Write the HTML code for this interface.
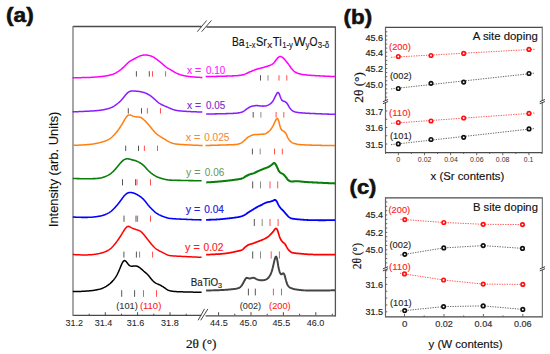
<!DOCTYPE html>
<html><head><meta charset="utf-8"><title>XRD figure</title>
<style>
html,body{margin:0;padding:0;background:#fff;}
body{width:550px;height:354px;overflow:hidden;font-family:"Liberation Sans", sans-serif;}
svg{display:block;}
</style></head>
<body>
<svg width="550" height="354" viewBox="0 0 550 354">
<rect width="550" height="354" fill="#fff"/>
<text x="6" y="21.6" font-family='"Liberation Sans", sans-serif' font-size="20.2" fill="#111" text-anchor="start" font-weight="bold" textLength="27.8" lengthAdjust="spacingAndGlyphs" stroke="#111" stroke-width="0.55">(a)</text>
<text x="343.6" y="23.5" font-family='"Liberation Sans", sans-serif' font-size="20.2" fill="#111" text-anchor="start" font-weight="bold" textLength="28.6" lengthAdjust="spacingAndGlyphs" stroke="#111" stroke-width="0.55">(b)</text>
<text x="349.6" y="194.2" font-family='"Liberation Sans", sans-serif' font-size="20.2" fill="#111" text-anchor="start" font-weight="bold" textLength="26.8" lengthAdjust="spacingAndGlyphs" stroke="#111" stroke-width="0.55">(c)</text>
<line x1="73" y1="26.5" x2="201.6" y2="26.5" stroke="#4a4a4a" stroke-width="1.3"/>
<line x1="206.4" y1="27" x2="335.4" y2="27" stroke="#4a4a4a" stroke-width="1.3"/>
<line x1="73" y1="315.4" x2="201.2" y2="315.4" stroke="#4a4a4a" stroke-width="1.3"/>
<line x1="205.6" y1="315.8" x2="335.4" y2="315.8" stroke="#4a4a4a" stroke-width="1.3"/>
<line x1="73" y1="25.9" x2="73" y2="316" stroke="#777777" stroke-width="1.3"/>
<line x1="335.4" y1="26.4" x2="335.4" y2="316.4" stroke="#555" stroke-width="1.3"/>
<line x1="197.3" y1="31.7" x2="206.6" y2="20.5" stroke="#333" stroke-width="0.9"/>
<line x1="201.6" y1="31.7" x2="211.4" y2="20.5" stroke="#333" stroke-width="0.9"/>
<line x1="198.1" y1="320.3" x2="204.5" y2="308.9" stroke="#333" stroke-width="0.9"/>
<line x1="200.7" y1="320.3" x2="207.9" y2="308.9" stroke="#333" stroke-width="0.9"/>
<line x1="105.3" y1="315.4" x2="105.3" y2="312.2" stroke="#4a4a4a" stroke-width="1"/>
<line x1="137.6" y1="315.4" x2="137.6" y2="312.2" stroke="#4a4a4a" stroke-width="1"/>
<line x1="170" y1="315.4" x2="170" y2="312.2" stroke="#4a4a4a" stroke-width="1"/>
<line x1="218.6" y1="315.4" x2="218.6" y2="312.2" stroke="#4a4a4a" stroke-width="1"/>
<line x1="251" y1="315.4" x2="251" y2="312.2" stroke="#4a4a4a" stroke-width="1"/>
<line x1="283.4" y1="315.4" x2="283.4" y2="312.2" stroke="#4a4a4a" stroke-width="1"/>
<line x1="315.8" y1="315.4" x2="315.8" y2="312.2" stroke="#4a4a4a" stroke-width="1"/>
<line x1="89.2" y1="315.4" x2="89.2" y2="313.7" stroke="#4a4a4a" stroke-width="1"/>
<line x1="121.5" y1="315.4" x2="121.5" y2="313.7" stroke="#4a4a4a" stroke-width="1"/>
<line x1="153.8" y1="315.4" x2="153.8" y2="313.7" stroke="#4a4a4a" stroke-width="1"/>
<line x1="186.2" y1="315.4" x2="186.2" y2="313.7" stroke="#4a4a4a" stroke-width="1"/>
<line x1="234.8" y1="315.4" x2="234.8" y2="313.7" stroke="#4a4a4a" stroke-width="1"/>
<line x1="267.2" y1="315.4" x2="267.2" y2="313.7" stroke="#4a4a4a" stroke-width="1"/>
<line x1="299.6" y1="315.4" x2="299.6" y2="313.7" stroke="#4a4a4a" stroke-width="1"/>
<line x1="332.3" y1="315.4" x2="332.3" y2="313.7" stroke="#4a4a4a" stroke-width="1"/>
<text x="74.2" y="326" font-family='"Liberation Sans", sans-serif' font-size="9.2" fill="#222" text-anchor="middle" font-weight="normal" textLength="17.6" lengthAdjust="spacingAndGlyphs" stroke="#222" stroke-width="0.05">31.2</text>
<text x="103.6" y="326" font-family='"Liberation Sans", sans-serif' font-size="9.2" fill="#222" text-anchor="middle" font-weight="normal" textLength="17.6" lengthAdjust="spacingAndGlyphs" stroke="#222" stroke-width="0.05">31.4</text>
<text x="135.6" y="326" font-family='"Liberation Sans", sans-serif' font-size="9.2" fill="#222" text-anchor="middle" font-weight="normal" textLength="17.6" lengthAdjust="spacingAndGlyphs" stroke="#222" stroke-width="0.05">31.6</text>
<text x="169.9" y="326" font-family='"Liberation Sans", sans-serif' font-size="9.2" fill="#222" text-anchor="middle" font-weight="normal" textLength="17.6" lengthAdjust="spacingAndGlyphs" stroke="#222" stroke-width="0.05">31.8</text>
<text x="218.9" y="326" font-family='"Liberation Sans", sans-serif' font-size="9.2" fill="#222" text-anchor="middle" font-weight="normal" textLength="17.6" lengthAdjust="spacingAndGlyphs" stroke="#222" stroke-width="0.05">44.5</text>
<text x="248.3" y="326" font-family='"Liberation Sans", sans-serif' font-size="9.2" fill="#222" text-anchor="middle" font-weight="normal" textLength="17.6" lengthAdjust="spacingAndGlyphs" stroke="#222" stroke-width="0.05">45.0</text>
<text x="281.4" y="326" font-family='"Liberation Sans", sans-serif' font-size="9.2" fill="#222" text-anchor="middle" font-weight="normal" textLength="17.6" lengthAdjust="spacingAndGlyphs" stroke="#222" stroke-width="0.05">45.5</text>
<text x="315.6" y="326" font-family='"Liberation Sans", sans-serif' font-size="9.2" fill="#222" text-anchor="middle" font-weight="normal" textLength="17.6" lengthAdjust="spacingAndGlyphs" stroke="#222" stroke-width="0.05">46.0</text>
<text x="201.2" y="347.6" font-family='"Liberation Serif", serif' font-size="13.4" fill="#111" text-anchor="middle" font-weight="normal" textLength="30.5" lengthAdjust="spacingAndGlyphs" stroke="#111" stroke-width="0.2">2&#952; (&#176;)</text>
<text transform="translate(58.3,169.4) rotate(-90)" font-family='"Liberation Sans", sans-serif' font-size="13.6" fill="#111" text-anchor="middle" textLength="115.6" lengthAdjust="spacingAndGlyphs" stroke="#111" stroke-width="0.12">Intensity (arb. Units)</text>
<text x="232" y="45.7" font-family='"Liberation Sans", sans-serif' font-size="13.2" fill="#111" text-anchor="start" font-weight="normal" textLength="12.6" lengthAdjust="spacingAndGlyphs" stroke="#111" stroke-width="0.15">Ba</text>
<text x="245.2" y="48.4" font-family='"Liberation Sans", sans-serif' font-size="8.4" fill="#222" text-anchor="start" font-weight="normal" textLength="10.3" lengthAdjust="spacingAndGlyphs" stroke="#222" stroke-width="0.12">1-x</text>
<text x="256" y="45.7" font-family='"Liberation Sans", sans-serif' font-size="13.2" fill="#111" text-anchor="start" font-weight="normal" textLength="11" lengthAdjust="spacingAndGlyphs" stroke="#111" stroke-width="0.15">Sr</text>
<text x="267.3" y="48.4" font-family='"Liberation Sans", sans-serif' font-size="8.4" fill="#222" text-anchor="start" font-weight="normal" textLength="5" lengthAdjust="spacingAndGlyphs" stroke="#222" stroke-width="0.12">x</text>
<text x="272.8" y="45.7" font-family='"Liberation Sans", sans-serif' font-size="13.2" fill="#111" text-anchor="start" font-weight="normal" textLength="8.8" lengthAdjust="spacingAndGlyphs" stroke="#111" stroke-width="0.15">Ti</text>
<text x="282.2" y="48.4" font-family='"Liberation Sans", sans-serif' font-size="8.4" fill="#222" text-anchor="start" font-weight="normal" textLength="10.8" lengthAdjust="spacingAndGlyphs" stroke="#222" stroke-width="0.12">1-y</text>
<text x="293.4" y="45.7" font-family='"Liberation Sans", sans-serif' font-size="13.2" fill="#111" text-anchor="start" font-weight="normal" textLength="12.2" lengthAdjust="spacingAndGlyphs" stroke="#111" stroke-width="0.15">W</text>
<text x="305.6" y="48.4" font-family='"Liberation Sans", sans-serif' font-size="8.4" fill="#222" text-anchor="start" font-weight="normal" textLength="4" lengthAdjust="spacingAndGlyphs" stroke="#222" stroke-width="0.12">y</text>
<text x="309.6" y="45.7" font-family='"Liberation Sans", sans-serif' font-size="13.2" fill="#111" text-anchor="start" font-weight="normal" textLength="8" lengthAdjust="spacingAndGlyphs" stroke="#111" stroke-width="0.15">O</text>
<text x="317.8" y="48.4" font-family='"Liberation Sans", sans-serif' font-size="8.4" fill="#222" text-anchor="start" font-weight="normal" textLength="11.4" lengthAdjust="spacingAndGlyphs" stroke="#222" stroke-width="0.12">3-&#948;</text>
<g fill="none" stroke-linejoin="round" stroke-linecap="butt">
<path d="M72.5,77.7 L73,77.7 L73.5,77.7 L74,77.7 L74.5,77.7 L75,77.7 L75.5,77.7 L76,77.7 L76.5,77.7 L77,77.69 L77.5,77.69 L78,77.68 L78.5,77.68 L79,77.67 L79.5,77.67 L80,77.66 L80.5,77.65 L81,77.64 L81.5,77.63 L82,77.62 L82.5,77.61 L83,77.6 L83.5,77.59 L84,77.58 L84.5,77.57 L85,77.55 L85.5,77.54 L86,77.53 L86.5,77.51 L87,77.5 L87.5,77.48 L88,77.47 L88.5,77.45 L89,77.43 L89.5,77.42 L90,77.4 L90.5,77.38 L91,77.35 L91.5,77.32 L92,77.29 L92.5,77.26 L93,77.23 L93.5,77.19 L94,77.15 L94.5,77.11 L95,77.08 L95.5,77.04 L96,77 L96.5,76.96 L97,76.92 L97.5,76.88 L98,76.84 L98.5,76.8 L99,76.75 L99.5,76.71 L100,76.66 L100.5,76.61 L101,76.56 L101.5,76.51 L102,76.46 L102.5,76.41 L103,76.35 L103.5,76.29 L104,76.23 L104.5,76.17 L105,76.1 L105.5,76.02 L106,75.94 L106.5,75.85 L107,75.75 L107.5,75.66 L108,75.55 L108.5,75.45 L109,75.33 L109.5,75.22 L110,75.1 L110.5,74.98 L111,74.85 L111.5,74.72 L112,74.57 L112.5,74.41 L113,74.23 L113.5,74.03 L114,73.81 L114.5,73.57 L115,73.32 L115.5,73.06 L116,72.79 L116.5,72.51 L117,72.22 L117.5,71.92 L118,71.6 L118.5,71.26 L119,70.91 L119.5,70.55 L120,70.18 L120.5,69.8 L121,69.4 L121.5,68.99 L122,68.56 L122.5,68.12 L123,67.67 L123.5,67.21 L124,66.74 L124.5,66.27 L125,65.77 L125.5,65.27 L126,64.75 L126.5,64.22 L127,63.7 L127.5,63.2 L128,62.72 L128.5,62.29 L129,61.89 L129.5,61.53 L130,61.2 L130.5,60.89 L131,60.59 L131.5,60.31 L132,60.04 L132.5,59.78 L133,59.52 L133.5,59.27 L134,59.01 L134.5,58.75 L135,58.49 L135.5,58.22 L136,57.94 L136.5,57.66 L137,57.39 L137.5,57.11 L138,56.85 L138.5,56.6 L139,56.37 L139.5,56.16 L140,55.97 L140.5,55.79 L141,55.64 L141.5,55.5 L142,55.36 L142.5,55.25 L143,55.15 L143.5,55.06 L144,55 L144.5,54.96 L145,54.94 L145.5,54.94 L146,54.97 L146.5,55.02 L147,55.08 L147.5,55.17 L148,55.26 L148.5,55.37 L149,55.48 L149.5,55.61 L150,55.74 L150.5,55.89 L151,56.05 L151.5,56.24 L152,56.44 L152.5,56.67 L153,56.91 L153.5,57.18 L154,57.46 L154.5,57.76 L155,58.08 L155.5,58.42 L156,58.78 L156.5,59.14 L157,59.52 L157.5,59.9 L158,60.29 L158.5,60.68 L159,61.08 L159.5,61.48 L160,61.89 L160.5,62.31 L161,62.73 L161.5,63.15 L162,63.57 L162.5,63.99 L163,64.4 L163.5,64.82 L164,65.24 L164.5,65.66 L165,66.08 L165.5,66.49 L166,66.88 L166.5,67.26 L167,67.62 L167.5,67.95 L168,68.26 L168.5,68.56 L169,68.84 L169.5,69.13 L170,69.42 L170.5,69.72 L171,70.02 L171.5,70.33 L172,70.63 L172.5,70.94 L173,71.24 L173.5,71.53 L174,71.81 L174.5,72.09 L175,72.36 L175.5,72.62 L176,72.87 L176.5,73.12 L177,73.35 L177.5,73.58 L178,73.8 L178.5,74.02 L179,74.22 L179.5,74.41 L180,74.59 L180.5,74.76 L181,74.91 L181.5,75.05 L182,75.18 L182.5,75.3 L183,75.42 L183.5,75.54 L184,75.66 L184.5,75.76 L185,75.87 L185.5,75.97 L186,76.06 L186.5,76.15 L187,76.23 L187.5,76.3 L188,76.37 L188.5,76.43 L189,76.49 L189.5,76.55 L190,76.6 L190.5,76.66 L191,76.71 L191.5,76.76 L192,76.81 L192.5,76.86 L193,76.9 L193.5,76.94 L194,76.99 L194.5,77.02 L195,77.06 L195.5,77.1 L196,77.13 L196.5,77.17 L197,77.2 L197.5,77.24 L198,77.27 L198.5,77.3 L199,77.33 L199.5,77.36 L200,77.39 L200.5,77.42 L201,77.44 L201.5,77.46 L202,77.48 L202.4,77.49" stroke="#ff00ff" stroke-width="1.5"/>
<path d="M205.6,76.6 L206.1,76.59 L206.6,76.59 L207.1,76.58 L207.6,76.57 L208.1,76.56 L208.6,76.56 L209.1,76.55 L209.6,76.54 L210.1,76.53 L210.6,76.52 L211.1,76.51 L211.6,76.5 L212.1,76.49 L212.6,76.47 L213.1,76.46 L213.6,76.45 L214.1,76.44 L214.6,76.43 L215.1,76.42 L215.6,76.4 L216.1,76.39 L216.6,76.38 L217.1,76.37 L217.6,76.36 L218.1,76.34 L218.6,76.33 L219.1,76.32 L219.6,76.31 L220.1,76.3 L220.6,76.29 L221.1,76.27 L221.6,76.26 L222.1,76.25 L222.6,76.23 L223.1,76.22 L223.6,76.21 L224.1,76.19 L224.6,76.18 L225.1,76.16 L225.6,76.15 L226.1,76.13 L226.6,76.11 L227.1,76.1 L227.6,76.08 L228.1,76.06 L228.6,76.04 L229.1,76.03 L229.6,76.01 L230.1,75.99 L230.6,75.97 L231.1,75.95 L231.6,75.93 L232.1,75.91 L232.6,75.89 L233.1,75.87 L233.6,75.86 L234.1,75.84 L234.6,75.82 L235.1,75.8 L235.6,75.77 L236.1,75.74 L236.6,75.71 L237.1,75.67 L237.6,75.62 L238.1,75.57 L238.6,75.51 L239.1,75.45 L239.6,75.39 L240.1,75.32 L240.6,75.24 L241.1,75.16 L241.6,75.07 L242.1,74.98 L242.6,74.88 L243.1,74.78 L243.6,74.67 L244.1,74.53 L244.6,74.35 L245.1,74.14 L245.6,73.91 L246.1,73.67 L246.6,73.42 L247.1,73.18 L247.6,72.95 L248.1,72.72 L248.6,72.5 L249.1,72.28 L249.6,72.05 L250.1,71.82 L250.6,71.6 L251.1,71.38 L251.6,71.17 L252.1,70.96 L252.6,70.75 L253.1,70.55 L253.6,70.34 L254.1,70.14 L254.6,69.95 L255.1,69.76 L255.6,69.57 L256.1,69.39 L256.6,69.23 L257.1,69.07 L257.6,68.93 L258.1,68.79 L258.6,68.66 L259.1,68.54 L259.6,68.42 L260.1,68.3 L260.6,68.18 L261.1,68.06 L261.6,67.93 L262.1,67.8 L262.6,67.66 L263.1,67.52 L263.6,67.38 L264.1,67.23 L264.6,67.09 L265.1,66.94 L265.6,66.79 L266.1,66.64 L266.6,66.49 L267.1,66.33 L267.6,66.17 L268.1,66.01 L268.6,65.84 L269.1,65.66 L269.6,65.47 L270.1,65.28 L270.6,65.07 L271.1,64.83 L271.6,64.56 L272.1,64.25 L272.6,63.91 L273.1,63.53 L273.6,63.09 L274.1,62.55 L274.6,61.92 L275.1,61.25 L275.6,60.59 L276.1,59.95 L276.6,59.32 L277.1,58.68 L277.6,58.09 L278.1,57.57 L278.6,57.15 L279.1,56.82 L279.6,56.57 L280.1,56.44 L280.6,56.44 L281.1,56.58 L281.6,56.83 L282.1,57.16 L282.6,57.53 L283.1,57.94 L283.6,58.39 L284.1,58.89 L284.6,59.42 L285.1,59.98 L285.6,60.55 L286.1,61.15 L286.6,61.77 L287.1,62.42 L287.6,63.07 L288.1,63.74 L288.6,64.41 L289.1,65.09 L289.6,65.81 L290.1,66.54 L290.6,67.26 L291.1,67.96 L291.6,68.61 L292.1,69.2 L292.6,69.76 L293.1,70.3 L293.6,70.8 L294.1,71.26 L294.6,71.67 L295.1,72.01 L295.6,72.3 L296.1,72.55 L296.6,72.79 L297.1,73.01 L297.6,73.22 L298.1,73.42 L298.6,73.59 L299.1,73.74 L299.6,73.87 L300.1,73.99 L300.6,74.1 L301.1,74.21 L301.6,74.32 L302.1,74.41 L302.6,74.51 L303.1,74.59 L303.6,74.66 L304.1,74.72 L304.6,74.78 L305.1,74.84 L305.6,74.89 L306.1,74.95 L306.6,75 L307.1,75.05 L307.6,75.1 L308.1,75.15 L308.6,75.19 L309.1,75.23 L309.6,75.27 L310.1,75.31 L310.6,75.34 L311.1,75.37 L311.6,75.41 L312.1,75.44 L312.6,75.47 L313.1,75.5 L313.6,75.54 L314.1,75.57 L314.6,75.6 L315.1,75.63 L315.6,75.66 L316.1,75.69 L316.6,75.72 L317.1,75.74 L317.6,75.77 L318.1,75.8 L318.6,75.83 L319.1,75.85 L319.6,75.88 L320.1,75.91 L320.6,75.93 L321.1,75.96 L321.6,75.98 L322.1,76.01 L322.6,76.03 L323.1,76.06 L323.6,76.08 L324.1,76.11 L324.6,76.13 L325.1,76.16 L325.6,76.18 L326.1,76.21 L326.6,76.23 L327.1,76.25 L327.6,76.28 L328.1,76.3 L328.6,76.33 L329.1,76.35 L329.6,76.37 L330.1,76.39 L330.6,76.42 L331.1,76.44 L331.6,76.46 L332.1,76.48 L332.6,76.5 L333.1,76.52 L333.6,76.54 L334.1,76.56 L334.6,76.58 L335,76.6" stroke="#ff00ff" stroke-width="1.55"/>
<path d="M72.5,111.79 L73,111.79 L73.5,111.78 L74,111.77 L74.5,111.76 L75,111.75 L75.5,111.73 L76,111.72 L76.5,111.7 L77,111.69 L77.5,111.67 L78,111.65 L78.5,111.64 L79,111.62 L79.5,111.6 L80,111.58 L80.5,111.56 L81,111.53 L81.5,111.51 L82,111.49 L82.5,111.47 L83,111.44 L83.5,111.42 L84,111.4 L84.5,111.37 L85,111.35 L85.5,111.32 L86,111.3 L86.5,111.27 L87,111.25 L87.5,111.22 L88,111.2 L88.5,111.17 L89,111.15 L89.5,111.12 L90,111.1 L90.5,111.07 L91,111.04 L91.5,111.02 L92,110.98 L92.5,110.95 L93,110.92 L93.5,110.88 L94,110.85 L94.5,110.81 L95,110.77 L95.5,110.72 L96,110.68 L96.5,110.64 L97,110.59 L97.5,110.55 L98,110.5 L98.5,110.45 L99,110.4 L99.5,110.35 L100,110.29 L100.5,110.23 L101,110.16 L101.5,110.08 L102,110 L102.5,109.92 L103,109.82 L103.5,109.73 L104,109.64 L104.5,109.54 L105,109.44 L105.5,109.33 L106,109.22 L106.5,109.1 L107,108.98 L107.5,108.86 L108,108.72 L108.5,108.58 L109,108.43 L109.5,108.26 L110,108.08 L110.5,107.88 L111,107.67 L111.5,107.45 L112,107.22 L112.5,106.97 L113,106.71 L113.5,106.43 L114,106.13 L114.5,105.81 L115,105.47 L115.5,105.12 L116,104.76 L116.5,104.39 L117,104.01 L117.5,103.62 L118,103.22 L118.5,102.8 L119,102.37 L119.5,101.92 L120,101.45 L120.5,100.97 L121,100.46 L121.5,99.93 L122,99.36 L122.5,98.77 L123,98.16 L123.5,97.53 L124,96.91 L124.5,96.29 L125,95.69 L125.5,95.09 L126,94.51 L126.5,93.94 L127,93.4 L127.5,92.9 L128,92.46 L128.5,92.1 L129,91.8 L129.5,91.56 L130,91.36 L130.5,91.21 L131,91.09 L131.5,91 L132,90.96 L132.5,90.94 L133,90.94 L133.5,90.96 L134,90.99 L134.5,91.02 L135,91.06 L135.5,91.1 L136,91.14 L136.5,91.19 L137,91.24 L137.5,91.29 L138,91.35 L138.5,91.41 L139,91.47 L139.5,91.54 L140,91.61 L140.5,91.7 L141,91.79 L141.5,91.9 L142,92.01 L142.5,92.13 L143,92.27 L143.5,92.41 L144,92.56 L144.5,92.72 L145,92.89 L145.5,93.08 L146,93.29 L146.5,93.51 L147,93.74 L147.5,93.99 L148,94.25 L148.5,94.53 L149,94.83 L149.5,95.15 L150,95.49 L150.5,95.84 L151,96.22 L151.5,96.6 L152,96.99 L152.5,97.4 L153,97.81 L153.5,98.23 L154,98.66 L154.5,99.1 L155,99.55 L155.5,100 L156,100.47 L156.5,100.93 L157,101.4 L157.5,101.85 L158,102.27 L158.5,102.67 L159,103.03 L159.5,103.36 L160,103.67 L160.5,103.96 L161,104.24 L161.5,104.5 L162,104.76 L162.5,105 L163,105.23 L163.5,105.46 L164,105.68 L164.5,105.9 L165,106.12 L165.5,106.33 L166,106.54 L166.5,106.75 L167,106.96 L167.5,107.18 L168,107.4 L168.5,107.63 L169,107.85 L169.5,108.08 L170,108.3 L170.5,108.51 L171,108.72 L171.5,108.92 L172,109.11 L172.5,109.29 L173,109.47 L173.5,109.63 L174,109.79 L174.5,109.93 L175,110.07 L175.5,110.19 L176,110.3 L176.5,110.4 L177,110.49 L177.5,110.58 L178,110.65 L178.5,110.72 L179,110.79 L179.5,110.84 L180,110.89 L180.5,110.94 L181,110.98 L181.5,111.02 L182,111.07 L182.5,111.11 L183,111.15 L183.5,111.19 L184,111.23 L184.5,111.26 L185,111.3 L185.5,111.34 L186,111.37 L186.5,111.41 L187,111.44 L187.5,111.47 L188,111.5 L188.5,111.53 L189,111.55 L189.5,111.58 L190,111.6 L190.5,111.62 L191,111.64 L191.5,111.66 L192,111.68 L192.5,111.7 L193,111.72 L193.5,111.74 L194,111.76 L194.5,111.78 L195,111.8 L195.5,111.82 L196,111.84 L196.5,111.86 L197,111.88 L197.5,111.89 L198,111.91 L198.5,111.92 L199,111.94 L199.5,111.95 L200,111.96 L200.5,111.97 L201,111.98 L201.5,111.99 L202,111.99 L202.3,112" stroke="#8a1cff" stroke-width="1.5"/>
<path d="M206.1,114 L206.6,114 L207.1,113.99 L207.6,113.99 L208.1,113.99 L208.6,113.98 L209.1,113.98 L209.6,113.97 L210.1,113.97 L210.6,113.96 L211.1,113.95 L211.6,113.95 L212.1,113.94 L212.6,113.93 L213.1,113.92 L213.6,113.91 L214.1,113.9 L214.6,113.9 L215.1,113.89 L215.6,113.88 L216.1,113.87 L216.6,113.86 L217.1,113.85 L217.6,113.84 L218.1,113.83 L218.6,113.82 L219.1,113.82 L219.6,113.81 L220.1,113.8 L220.6,113.79 L221.1,113.78 L221.6,113.77 L222.1,113.76 L222.6,113.75 L223.1,113.73 L223.6,113.72 L224.1,113.71 L224.6,113.69 L225.1,113.68 L225.6,113.66 L226.1,113.64 L226.6,113.63 L227.1,113.61 L227.6,113.59 L228.1,113.58 L228.6,113.56 L229.1,113.54 L229.6,113.52 L230.1,113.5 L230.6,113.48 L231.1,113.46 L231.6,113.44 L232.1,113.42 L232.6,113.4 L233.1,113.38 L233.6,113.36 L234.1,113.34 L234.6,113.32 L235.1,113.29 L235.6,113.26 L236.1,113.22 L236.6,113.17 L237.1,113.1 L237.6,113.03 L238.1,112.95 L238.6,112.87 L239.1,112.78 L239.6,112.69 L240.1,112.6 L240.6,112.48 L241.1,112.34 L241.6,112.16 L242.1,111.96 L242.6,111.74 L243.1,111.5 L243.6,111.24 L244.1,110.94 L244.6,110.6 L245.1,110.23 L245.6,109.84 L246.1,109.44 L246.6,109.06 L247.1,108.7 L247.6,108.37 L248.1,108.06 L248.6,107.76 L249.1,107.47 L249.6,107.18 L250.1,106.92 L250.6,106.68 L251.1,106.47 L251.6,106.31 L252.1,106.18 L252.6,106.08 L253.1,105.98 L253.6,105.89 L254.1,105.81 L254.6,105.73 L255.1,105.67 L255.6,105.63 L256.1,105.6 L256.6,105.59 L257.1,105.61 L257.6,105.64 L258.1,105.69 L258.6,105.74 L259.1,105.79 L259.6,105.85 L260.1,105.91 L260.6,105.97 L261.1,106.02 L261.6,106.06 L262.1,106.1 L262.6,106.11 L263.1,106.11 L263.6,106.09 L264.1,106.06 L264.6,106.01 L265.1,105.96 L265.6,105.9 L266.1,105.84 L266.6,105.75 L267.1,105.61 L267.6,105.4 L268.1,105.15 L268.6,104.86 L269.1,104.56 L269.6,104.26 L270.1,103.94 L270.6,103.58 L271.1,103.16 L271.6,102.68 L272.1,102.14 L272.6,101.5 L273.1,100.72 L273.6,99.82 L274.1,98.85 L274.6,97.86 L275.1,96.9 L275.6,95.91 L276.1,94.9 L276.6,93.93 L277.1,93.09 L277.6,92.53 L278.1,92.42 L278.6,92.79 L279.1,93.6 L279.6,94.86 L280.1,96.32 L280.6,97.64 L281.1,98.76 L281.6,99.72 L282.1,100.43 L282.6,100.83 L283.1,101.02 L283.6,101.14 L284.1,101.25 L284.6,101.42 L285.1,101.7 L285.6,102.04 L286.1,102.44 L286.6,102.91 L287.1,103.49 L287.6,104.23 L288.1,105.09 L288.6,106 L289.1,106.86 L289.6,107.62 L290.1,108.32 L290.6,108.97 L291.1,109.57 L291.6,110.06 L292.1,110.45 L292.6,110.77 L293.1,111.06 L293.6,111.33 L294.1,111.57 L294.6,111.77 L295.1,111.92 L295.6,112.04 L296.1,112.14 L296.6,112.23 L297.1,112.33 L297.6,112.42 L298.1,112.5 L298.6,112.58 L299.1,112.65 L299.6,112.71 L300.1,112.76 L300.6,112.81 L301.1,112.84 L301.6,112.88 L302.1,112.92 L302.6,112.95 L303.1,112.99 L303.6,113.02 L304.1,113.06 L304.6,113.09 L305.1,113.13 L305.6,113.16 L306.1,113.19 L306.6,113.22 L307.1,113.25 L307.6,113.28 L308.1,113.31 L308.6,113.34 L309.1,113.36 L309.6,113.38 L310.1,113.4 L310.6,113.42 L311.1,113.45 L311.6,113.47 L312.1,113.49 L312.6,113.51 L313.1,113.53 L313.6,113.55 L314.1,113.57 L314.6,113.6 L315.1,113.62 L315.6,113.64 L316.1,113.66 L316.6,113.68 L317.1,113.7 L317.6,113.72 L318.1,113.75 L318.6,113.77 L319.1,113.79 L319.6,113.81 L320.1,113.83 L320.6,113.85 L321.1,113.87 L321.6,113.89 L322.1,113.91 L322.6,113.93 L323.1,113.95 L323.6,113.97 L324.1,113.99 L324.6,114.01 L325.1,114.03 L325.6,114.04 L326.1,114.06 L326.6,114.08 L327.1,114.1 L327.6,114.11 L328.1,114.13 L328.6,114.14 L329.1,114.16 L329.6,114.17 L330.1,114.19 L330.6,114.2 L331.1,114.22 L331.6,114.23 L332.1,114.24 L332.6,114.25 L333.1,114.26 L333.6,114.27 L334.1,114.28 L334.6,114.29 L335,114.3" stroke="#8a1cff" stroke-width="1.55"/>
<path d="M72.8,145.2 L73.3,145.21 L73.8,145.21 L74.3,145.21 L74.8,145.21 L75.3,145.21 L75.8,145.2 L76.3,145.19 L76.8,145.18 L77.3,145.17 L77.8,145.16 L78.3,145.15 L78.8,145.13 L79.3,145.11 L79.8,145.09 L80.3,145.07 L80.8,145.04 L81.3,145.02 L81.8,144.99 L82.3,144.97 L82.8,144.94 L83.3,144.91 L83.8,144.87 L84.3,144.84 L84.8,144.81 L85.3,144.77 L85.8,144.74 L86.3,144.7 L86.8,144.66 L87.3,144.62 L87.8,144.58 L88.3,144.54 L88.8,144.5 L89.3,144.46 L89.8,144.41 L90.3,144.36 L90.8,144.31 L91.3,144.25 L91.8,144.19 L92.3,144.12 L92.8,144.05 L93.3,143.97 L93.8,143.88 L94.3,143.79 L94.8,143.7 L95.3,143.6 L95.8,143.5 L96.3,143.4 L96.8,143.3 L97.3,143.19 L97.8,143.08 L98.3,142.97 L98.8,142.86 L99.3,142.75 L99.8,142.64 L100.3,142.52 L100.8,142.39 L101.3,142.26 L101.8,142.12 L102.3,141.97 L102.8,141.81 L103.3,141.64 L103.8,141.48 L104.3,141.3 L104.8,141.12 L105.3,140.94 L105.8,140.74 L106.3,140.54 L106.8,140.32 L107.3,140.09 L107.8,139.84 L108.3,139.58 L108.8,139.31 L109.3,139.03 L109.8,138.72 L110.3,138.39 L110.8,138.02 L111.3,137.62 L111.8,137.2 L112.3,136.74 L112.8,136.26 L113.3,135.76 L113.8,135.24 L114.3,134.72 L114.8,134.18 L115.3,133.62 L115.8,133.05 L116.3,132.46 L116.8,131.85 L117.3,131.21 L117.8,130.56 L118.3,129.89 L118.8,129.2 L119.3,128.49 L119.8,127.76 L120.3,127 L120.8,126.22 L121.3,125.42 L121.8,124.6 L122.3,123.76 L122.8,122.91 L123.3,122.06 L123.8,121.2 L124.3,120.34 L124.8,119.47 L125.3,118.63 L125.8,117.82 L126.3,117.08 L126.8,116.43 L127.3,115.88 L127.8,115.45 L128.3,115.14 L128.8,114.96 L129.3,114.89 L129.8,114.91 L130.3,115.01 L130.8,115.16 L131.3,115.36 L131.8,115.58 L132.3,115.82 L132.8,116.04 L133.3,116.23 L133.8,116.39 L134.3,116.52 L134.8,116.63 L135.3,116.72 L135.8,116.79 L136.3,116.85 L136.8,116.9 L137.3,116.94 L137.8,116.97 L138.3,116.99 L138.8,117.02 L139.3,117.07 L139.8,117.16 L140.3,117.29 L140.8,117.49 L141.3,117.76 L141.8,118.08 L142.3,118.46 L142.8,118.87 L143.3,119.29 L143.8,119.73 L144.3,120.19 L144.8,120.65 L145.3,121.14 L145.8,121.64 L146.3,122.16 L146.8,122.7 L147.3,123.25 L147.8,123.81 L148.3,124.39 L148.8,124.98 L149.3,125.59 L149.8,126.2 L150.3,126.83 L150.8,127.45 L151.3,128.06 L151.8,128.67 L152.3,129.28 L152.8,129.87 L153.3,130.47 L153.8,131.05 L154.3,131.61 L154.8,132.16 L155.3,132.67 L155.8,133.15 L156.3,133.59 L156.8,134.02 L157.3,134.42 L157.8,134.8 L158.3,135.16 L158.8,135.51 L159.3,135.86 L159.8,136.19 L160.3,136.51 L160.8,136.83 L161.3,137.15 L161.8,137.45 L162.3,137.76 L162.8,138.06 L163.3,138.36 L163.8,138.66 L164.3,138.96 L164.8,139.27 L165.3,139.58 L165.8,139.89 L166.3,140.2 L166.8,140.52 L167.3,140.82 L167.8,141.12 L168.3,141.41 L168.8,141.68 L169.3,141.93 L169.8,142.17 L170.3,142.4 L170.8,142.61 L171.3,142.81 L171.8,143 L172.3,143.18 L172.8,143.34 L173.3,143.49 L173.8,143.61 L174.3,143.72 L174.8,143.81 L175.3,143.89 L175.8,143.96 L176.3,144.03 L176.8,144.09 L177.3,144.15 L177.8,144.2 L178.3,144.25 L178.8,144.3 L179.3,144.34 L179.8,144.38 L180.3,144.42 L180.8,144.45 L181.3,144.49 L181.8,144.52 L182.3,144.55 L182.8,144.59 L183.3,144.62 L183.8,144.65 L184.3,144.68 L184.8,144.71 L185.3,144.75 L185.8,144.78 L186.3,144.8 L186.8,144.83 L187.3,144.86 L187.8,144.89 L188.3,144.92 L188.8,144.94 L189.3,144.97 L189.8,144.99 L190.3,145.01 L190.8,145.04 L191.3,145.06 L191.8,145.08 L192.3,145.1 L192.8,145.13 L193.3,145.15 L193.8,145.17 L194.3,145.19 L194.8,145.22 L195.3,145.24 L195.8,145.26 L196.3,145.28 L196.8,145.3 L197.3,145.32 L197.8,145.34 L198.3,145.36 L198.8,145.38 L199.3,145.4 L199.8,145.41 L200.3,145.43 L200.8,145.45 L201.3,145.46 L201.8,145.47 L202.3,145.48 L202.7,145.49" stroke="#ff7f10" stroke-width="1.5"/>
<path d="M205.5,145.5 L206,145.49 L206.5,145.48 L207,145.46 L207.5,145.45 L208,145.44 L208.5,145.42 L209,145.41 L209.5,145.4 L210,145.38 L210.5,145.37 L211,145.36 L211.5,145.34 L212,145.33 L212.5,145.31 L213,145.3 L213.5,145.29 L214,145.27 L214.5,145.26 L215,145.24 L215.5,145.23 L216,145.21 L216.5,145.2 L217,145.19 L217.5,145.17 L218,145.16 L218.5,145.14 L219,145.13 L219.5,145.11 L220,145.1 L220.5,145.09 L221,145.07 L221.5,145.06 L222,145.04 L222.5,145.03 L223,145.01 L223.5,145 L224,144.98 L224.5,144.97 L225,144.95 L225.5,144.94 L226,144.92 L226.5,144.9 L227,144.89 L227.5,144.87 L228,144.86 L228.5,144.84 L229,144.82 L229.5,144.8 L230,144.79 L230.5,144.77 L231,144.75 L231.5,144.73 L232,144.71 L232.5,144.7 L233,144.68 L233.5,144.66 L234,144.64 L234.5,144.62 L235,144.6 L235.5,144.56 L236,144.51 L236.5,144.44 L237,144.36 L237.5,144.25 L238,144.14 L238.5,144.01 L239,143.87 L239.5,143.72 L240,143.55 L240.5,143.34 L241,143.07 L241.5,142.75 L242,142.39 L242.5,142.01 L243,141.61 L243.5,141.21 L244,140.82 L244.5,140.4 L245,139.95 L245.5,139.48 L246,139 L246.5,138.52 L247,138.05 L247.5,137.62 L248,137.22 L248.5,136.89 L249,136.6 L249.5,136.34 L250,136.1 L250.5,135.86 L251,135.64 L251.5,135.43 L252,135.24 L252.5,135.07 L253,134.93 L253.5,134.8 L254,134.7 L254.5,134.63 L255,134.59 L255.5,134.55 L256,134.52 L256.5,134.5 L257,134.47 L257.5,134.45 L258,134.43 L258.5,134.41 L259,134.39 L259.5,134.36 L260,134.34 L260.5,134.31 L261,134.28 L261.5,134.25 L262,134.22 L262.5,134.19 L263,134.15 L263.5,134.11 L264,134.06 L264.5,134 L265,133.9 L265.5,133.71 L266,133.45 L266.5,133.13 L267,132.77 L267.5,132.4 L268,132.02 L268.5,131.64 L269,131.23 L269.5,130.77 L270,130.26 L270.5,129.7 L271,129.07 L271.5,128.35 L272,127.54 L272.5,126.68 L273,125.78 L273.5,124.82 L274,123.8 L274.5,122.74 L275,121.7 L275.5,120.71 L276,119.77 L276.5,118.96 L277,118.48 L277.5,118.57 L278,119.2 L278.5,120.33 L279,122.08 L279.5,124.16 L280,126.06 L280.5,127.68 L281,128.98 L281.5,129.81 L282,130.26 L282.5,130.56 L283,130.82 L283.5,131.11 L284,131.47 L284.5,131.87 L285,132.32 L285.5,132.87 L286,133.6 L286.5,134.64 L287,135.86 L287.5,137.04 L288,138.02 L288.5,138.87 L289,139.64 L289.5,140.32 L290,140.89 L290.5,141.35 L291,141.77 L291.5,142.16 L292,142.53 L292.5,142.85 L293,143.12 L293.5,143.33 L294,143.48 L294.5,143.61 L295,143.74 L295.5,143.87 L296,144 L296.5,144.12 L297,144.23 L297.5,144.33 L298,144.41 L298.5,144.49 L299,144.55 L299.5,144.59 L300,144.62 L300.5,144.65 L301,144.68 L301.5,144.71 L302,144.74 L302.5,144.77 L303,144.8 L303.5,144.83 L304,144.85 L304.5,144.88 L305,144.91 L305.5,144.93 L306,144.96 L306.5,144.98 L307,145 L307.5,145.02 L308,145.04 L308.5,145.06 L309,145.07 L309.5,145.09 L310,145.1 L310.5,145.11 L311,145.12 L311.5,145.14 L312,145.15 L312.5,145.16 L313,145.17 L313.5,145.18 L314,145.2 L314.5,145.21 L315,145.22 L315.5,145.23 L316,145.25 L316.5,145.26 L317,145.27 L317.5,145.29 L318,145.3 L318.5,145.31 L319,145.32 L319.5,145.34 L320,145.35 L320.5,145.36 L321,145.37 L321.5,145.38 L322,145.4 L322.5,145.41 L323,145.42 L323.5,145.43 L324,145.44 L324.5,145.45 L325,145.46 L325.5,145.47 L326,145.48 L326.5,145.49 L327,145.5 L327.5,145.51 L328,145.52 L328.5,145.53 L329,145.54 L329.5,145.54 L330,145.55 L330.5,145.56 L331,145.57 L331.5,145.57 L332,145.58 L332.5,145.58 L333,145.59 L333.5,145.59 L334,145.59 L334.5,145.6 L335,145.6" stroke="#ff7f10" stroke-width="1.55"/>
<path d="M72.8,178.42 L73.3,178.43 L73.8,178.45 L74.3,178.47 L74.8,178.49 L75.3,178.51 L75.8,178.53 L76.3,178.56 L76.8,178.58 L77.3,178.6 L77.8,178.62 L78.3,178.63 L78.8,178.65 L79.3,178.67 L79.8,178.69 L80.3,178.7 L80.8,178.72 L81.3,178.73 L81.8,178.74 L82.3,178.75 L82.8,178.77 L83.3,178.77 L83.8,178.78 L84.3,178.79 L84.8,178.8 L85.3,178.8 L85.8,178.8 L86.3,178.8 L86.8,178.8 L87.3,178.8 L87.8,178.79 L88.3,178.78 L88.8,178.77 L89.3,178.76 L89.8,178.75 L90.3,178.74 L90.8,178.73 L91.3,178.71 L91.8,178.7 L92.3,178.68 L92.8,178.67 L93.3,178.65 L93.8,178.64 L94.3,178.62 L94.8,178.6 L95.3,178.58 L95.8,178.55 L96.3,178.52 L96.8,178.47 L97.3,178.43 L97.8,178.37 L98.3,178.32 L98.8,178.25 L99.3,178.19 L99.8,178.11 L100.3,178.03 L100.8,177.93 L101.3,177.82 L101.8,177.69 L102.3,177.55 L102.8,177.4 L103.3,177.24 L103.8,177.07 L104.3,176.9 L104.8,176.72 L105.3,176.54 L105.8,176.34 L106.3,176.12 L106.8,175.9 L107.3,175.65 L107.8,175.4 L108.3,175.13 L108.8,174.84 L109.3,174.54 L109.8,174.23 L110.3,173.89 L110.8,173.52 L111.3,173.13 L111.8,172.71 L112.3,172.26 L112.8,171.8 L113.3,171.31 L113.8,170.81 L114.3,170.3 L114.8,169.77 L115.3,169.22 L115.8,168.65 L116.3,168.06 L116.8,167.45 L117.3,166.83 L117.8,166.21 L118.3,165.6 L118.8,164.99 L119.3,164.39 L119.8,163.81 L120.3,163.23 L120.8,162.66 L121.3,162.11 L121.8,161.57 L122.3,161.08 L122.8,160.64 L123.3,160.25 L123.8,159.92 L124.3,159.63 L124.8,159.39 L125.3,159.17 L125.8,159 L126.3,158.86 L126.8,158.79 L127.3,158.76 L127.8,158.79 L128.3,158.86 L128.8,158.96 L129.3,159.08 L129.8,159.21 L130.3,159.34 L130.8,159.48 L131.3,159.61 L131.8,159.74 L132.3,159.87 L132.8,159.99 L133.3,160.11 L133.8,160.23 L134.3,160.36 L134.8,160.49 L135.3,160.64 L135.8,160.8 L136.3,160.98 L136.8,161.18 L137.3,161.39 L137.8,161.63 L138.3,161.88 L138.8,162.15 L139.3,162.42 L139.8,162.71 L140.3,163 L140.8,163.32 L141.3,163.66 L141.8,164.01 L142.3,164.39 L142.8,164.79 L143.3,165.22 L143.8,165.67 L144.3,166.16 L144.8,166.67 L145.3,167.22 L145.8,167.8 L146.3,168.38 L146.8,168.95 L147.3,169.51 L147.8,170.05 L148.3,170.56 L148.8,171.04 L149.3,171.51 L149.8,171.96 L150.3,172.4 L150.8,172.82 L151.3,173.22 L151.8,173.6 L152.3,173.97 L152.8,174.33 L153.3,174.67 L153.8,175.01 L154.3,175.32 L154.8,175.62 L155.3,175.91 L155.8,176.18 L156.3,176.43 L156.8,176.67 L157.3,176.9 L157.8,177.12 L158.3,177.33 L158.8,177.52 L159.3,177.71 L159.8,177.89 L160.3,178.06 L160.8,178.22 L161.3,178.38 L161.8,178.53 L162.3,178.68 L162.8,178.82 L163.3,178.96 L163.8,179.08 L164.3,179.2 L164.8,179.31 L165.3,179.42 L165.8,179.53 L166.3,179.63 L166.8,179.72 L167.3,179.81 L167.8,179.89 L168.3,179.96 L168.8,180.02 L169.3,180.06 L169.8,180.1 L170.3,180.12 L170.8,180.14 L171.3,180.16 L171.8,180.18 L172.3,180.2 L172.8,180.22 L173.3,180.23 L173.8,180.25 L174.3,180.26 L174.8,180.28 L175.3,180.29 L175.8,180.3 L176.3,180.32 L176.8,180.33 L177.3,180.34 L177.8,180.35 L178.3,180.36 L178.8,180.38 L179.3,180.39 L179.8,180.4 L180.3,180.41 L180.8,180.42 L181.3,180.43 L181.8,180.44 L182.3,180.45 L182.8,180.46 L183.3,180.47 L183.8,180.48 L184.3,180.49 L184.8,180.5 L185.3,180.51 L185.8,180.52 L186.3,180.53 L186.8,180.54 L187.3,180.55 L187.8,180.56 L188.3,180.57 L188.8,180.58 L189.3,180.59 L189.8,180.6 L190.3,180.61 L190.8,180.62 L191.3,180.63 L191.8,180.64 L192.3,180.65 L192.8,180.66 L193.3,180.67 L193.8,180.68 L194.3,180.69 L194.8,180.7 L195.3,180.71 L195.8,180.72 L196.3,180.72 L196.8,180.73 L197.3,180.74 L197.8,180.75 L198.3,180.76 L198.8,180.76 L199.3,180.77 L199.8,180.78 L200.3,180.78 L200.8,180.79 L201.3,180.79 L201.6,180.8" stroke="#0a7d0a" stroke-width="1.6"/>
<path d="M206.3,182.39 L206.8,182.38 L207.3,182.35 L207.8,182.33 L208.3,182.3 L208.8,182.27 L209.3,182.24 L209.8,182.21 L210.3,182.18 L210.8,182.15 L211.3,182.11 L211.8,182.08 L212.3,182.05 L212.8,182.01 L213.3,181.97 L213.8,181.94 L214.3,181.9 L214.8,181.86 L215.3,181.83 L215.8,181.79 L216.3,181.75 L216.8,181.71 L217.3,181.67 L217.8,181.63 L218.3,181.59 L218.8,181.55 L219.3,181.51 L219.8,181.47 L220.3,181.42 L220.8,181.37 L221.3,181.33 L221.8,181.28 L222.3,181.23 L222.8,181.18 L223.3,181.13 L223.8,181.07 L224.3,181.02 L224.8,180.97 L225.3,180.91 L225.8,180.86 L226.3,180.81 L226.8,180.75 L227.3,180.7 L227.8,180.65 L228.3,180.59 L228.8,180.53 L229.3,180.48 L229.8,180.42 L230.3,180.36 L230.8,180.3 L231.3,180.24 L231.8,180.17 L232.3,180.11 L232.8,180.05 L233.3,179.98 L233.8,179.91 L234.3,179.85 L234.8,179.78 L235.3,179.71 L235.8,179.64 L236.3,179.57 L236.8,179.5 L237.3,179.43 L237.8,179.36 L238.3,179.28 L238.8,179.2 L239.3,179.11 L239.8,179.01 L240.3,178.9 L240.8,178.78 L241.3,178.65 L241.8,178.5 L242.3,178.34 L242.8,178.14 L243.3,177.89 L243.8,177.57 L244.3,177.21 L244.8,176.85 L245.3,176.53 L245.8,176.24 L246.3,175.98 L246.8,175.72 L247.3,175.47 L247.8,175.23 L248.3,175 L248.8,174.78 L249.3,174.57 L249.8,174.38 L250.3,174.2 L250.8,174.05 L251.3,173.92 L251.8,173.8 L252.3,173.67 L252.8,173.53 L253.3,173.37 L253.8,173.18 L254.3,172.97 L254.8,172.74 L255.3,172.5 L255.8,172.26 L256.3,172.01 L256.8,171.77 L257.3,171.53 L257.8,171.3 L258.3,171.08 L258.8,170.86 L259.3,170.65 L259.8,170.43 L260.3,170.22 L260.8,170.01 L261.3,169.8 L261.8,169.59 L262.3,169.38 L262.8,169.17 L263.3,168.96 L263.8,168.76 L264.3,168.57 L264.8,168.38 L265.3,168.2 L265.8,168.02 L266.3,167.84 L266.8,167.65 L267.3,167.46 L267.8,167.26 L268.3,167.04 L268.8,166.79 L269.3,166.51 L269.8,166.19 L270.3,165.84 L270.8,165.48 L271.3,165.11 L271.8,164.73 L272.3,164.31 L272.8,163.85 L273.3,163.42 L273.8,163.09 L274.3,163 L274.8,163.28 L275.3,163.84 L275.8,164.58 L276.3,165.49 L276.8,166.5 L277.3,167.59 L277.8,168.77 L278.3,169.94 L278.8,170.92 L279.3,171.63 L279.8,172.15 L280.3,172.57 L280.8,172.92 L281.3,173.21 L281.8,173.45 L282.3,173.67 L282.8,173.92 L283.3,174.25 L283.8,174.69 L284.3,175.22 L284.8,175.82 L285.3,176.45 L285.8,177.08 L286.3,177.74 L286.8,178.43 L287.3,179.12 L287.8,179.72 L288.3,180.17 L288.8,180.5 L289.3,180.78 L289.8,181.02 L290.3,181.22 L290.8,181.37 L291.3,181.46 L291.8,181.49 L292.3,181.48 L292.8,181.46 L293.3,181.42 L293.8,181.38 L294.3,181.33 L294.8,181.28 L295.3,181.24 L295.8,181.21 L296.3,181.18 L296.8,181.17 L297.3,181.18 L297.8,181.21 L298.3,181.25 L298.8,181.3 L299.3,181.35 L299.8,181.4 L300.3,181.46 L300.8,181.51 L301.3,181.57 L301.8,181.63 L302.3,181.69 L302.8,181.74 L303.3,181.79 L303.8,181.84 L304.3,181.88 L304.8,181.91 L305.3,181.95 L305.8,181.98 L306.3,182.01 L306.8,182.05 L307.3,182.08 L307.8,182.11 L308.3,182.14 L308.8,182.17 L309.3,182.2 L309.8,182.23 L310.3,182.25 L310.8,182.28 L311.3,182.31 L311.8,182.34 L312.3,182.36 L312.8,182.39 L313.3,182.42 L313.8,182.44 L314.3,182.47 L314.8,182.49 L315.3,182.51 L315.8,182.54 L316.3,182.56 L316.8,182.59 L317.3,182.61 L317.8,182.64 L318.3,182.66 L318.8,182.68 L319.3,182.71 L319.8,182.73 L320.3,182.76 L320.8,182.78 L321.3,182.81 L321.8,182.83 L322.3,182.85 L322.8,182.88 L323.3,182.9 L323.8,182.92 L324.3,182.95 L324.8,182.97 L325.3,182.99 L325.8,183.02 L326.3,183.04 L326.8,183.06 L327.3,183.08 L327.8,183.11 L328.3,183.13 L328.8,183.15 L329.3,183.17 L329.8,183.19 L330.3,183.21 L330.8,183.23 L331.3,183.25 L331.8,183.28 L332.3,183.3 L332.8,183.32 L333.3,183.34 L333.8,183.35 L334.3,183.37 L334.8,183.39 L335,183.4" stroke="#0a7d0a" stroke-width="2.0500000000000003"/>
<path d="M72.8,217.02 L73.3,217.04 L73.8,217.06 L74.3,217.09 L74.8,217.12 L75.3,217.14 L75.8,217.17 L76.3,217.19 L76.8,217.22 L77.3,217.24 L77.8,217.26 L78.3,217.28 L78.8,217.29 L79.3,217.31 L79.8,217.32 L80.3,217.34 L80.8,217.35 L81.3,217.36 L81.8,217.37 L82.3,217.38 L82.8,217.38 L83.3,217.39 L83.8,217.39 L84.3,217.39 L84.8,217.39 L85.3,217.39 L85.8,217.39 L86.3,217.38 L86.8,217.37 L87.3,217.37 L87.8,217.36 L88.3,217.35 L88.8,217.33 L89.3,217.32 L89.8,217.3 L90.3,217.28 L90.8,217.26 L91.3,217.22 L91.8,217.19 L92.3,217.15 L92.8,217.1 L93.3,217.05 L93.8,217 L94.3,216.94 L94.8,216.88 L95.3,216.81 L95.8,216.74 L96.3,216.67 L96.8,216.6 L97.3,216.52 L97.8,216.45 L98.3,216.37 L98.8,216.29 L99.3,216.21 L99.8,216.12 L100.3,216.03 L100.8,215.92 L101.3,215.81 L101.8,215.68 L102.3,215.54 L102.8,215.39 L103.3,215.23 L103.8,215.07 L104.3,214.9 L104.8,214.72 L105.3,214.54 L105.8,214.34 L106.3,214.13 L106.8,213.9 L107.3,213.66 L107.8,213.4 L108.3,213.13 L108.8,212.85 L109.3,212.55 L109.8,212.22 L110.3,211.88 L110.8,211.5 L111.3,211.1 L111.8,210.67 L112.3,210.21 L112.8,209.73 L113.3,209.23 L113.8,208.73 L114.3,208.21 L114.8,207.69 L115.3,207.15 L115.8,206.6 L116.3,206.04 L116.8,205.47 L117.3,204.88 L117.8,204.28 L118.3,203.67 L118.8,203.05 L119.3,202.41 L119.8,201.76 L120.3,201.08 L120.8,200.39 L121.3,199.68 L121.8,198.97 L122.3,198.26 L122.8,197.59 L123.3,196.94 L123.8,196.34 L124.3,195.77 L124.8,195.23 L125.3,194.72 L125.8,194.25 L126.3,193.83 L126.8,193.47 L127.3,193.18 L127.8,192.95 L128.3,192.77 L128.8,192.63 L129.3,192.53 L129.8,192.47 L130.3,192.46 L130.8,192.48 L131.3,192.53 L131.8,192.62 L132.3,192.73 L132.8,192.85 L133.3,192.99 L133.8,193.15 L134.3,193.32 L134.8,193.5 L135.3,193.71 L135.8,193.93 L136.3,194.17 L136.8,194.44 L137.3,194.72 L137.8,195.01 L138.3,195.32 L138.8,195.63 L139.3,195.95 L139.8,196.29 L140.3,196.63 L140.8,196.99 L141.3,197.37 L141.8,197.78 L142.3,198.21 L142.8,198.66 L143.3,199.14 L143.8,199.65 L144.3,200.2 L144.8,200.78 L145.3,201.4 L145.8,202.05 L146.3,202.7 L146.8,203.36 L147.3,204.01 L147.8,204.64 L148.3,205.24 L148.8,205.83 L149.3,206.41 L149.8,206.97 L150.3,207.52 L150.8,208.05 L151.3,208.57 L151.8,209.08 L152.3,209.58 L152.8,210.07 L153.3,210.55 L153.8,211.01 L154.3,211.46 L154.8,211.88 L155.3,212.28 L155.8,212.66 L156.3,213.02 L156.8,213.36 L157.3,213.69 L157.8,214 L158.3,214.29 L158.8,214.57 L159.3,214.83 L159.8,215.08 L160.3,215.32 L160.8,215.55 L161.3,215.78 L161.8,215.99 L162.3,216.2 L162.8,216.4 L163.3,216.6 L163.8,216.78 L164.3,216.96 L164.8,217.13 L165.3,217.29 L165.8,217.45 L166.3,217.61 L166.8,217.76 L167.3,217.91 L167.8,218.04 L168.3,218.16 L168.8,218.25 L169.3,218.34 L169.8,218.4 L170.3,218.46 L170.8,218.51 L171.3,218.55 L171.8,218.6 L172.3,218.64 L172.8,218.68 L173.3,218.71 L173.8,218.75 L174.3,218.79 L174.8,218.82 L175.3,218.85 L175.8,218.88 L176.3,218.91 L176.8,218.94 L177.3,218.97 L177.8,219 L178.3,219.02 L178.8,219.05 L179.3,219.07 L179.8,219.09 L180.3,219.11 L180.8,219.13 L181.3,219.15 L181.8,219.18 L182.3,219.2 L182.8,219.22 L183.3,219.24 L183.8,219.26 L184.3,219.28 L184.8,219.31 L185.3,219.33 L185.8,219.35 L186.3,219.37 L186.8,219.39 L187.3,219.42 L187.8,219.44 L188.3,219.46 L188.8,219.48 L189.3,219.5 L189.8,219.52 L190.3,219.54 L190.8,219.57 L191.3,219.59 L191.8,219.61 L192.3,219.63 L192.8,219.65 L193.3,219.66 L193.8,219.68 L194.3,219.7 L194.8,219.72 L195.3,219.74 L195.8,219.75 L196.3,219.77 L196.8,219.78 L197.3,219.8 L197.8,219.81 L198.3,219.83 L198.8,219.84 L199.3,219.85 L199.8,219.86 L200.3,219.87 L200.8,219.88 L201.3,219.89 L201.6,219.9" stroke="#0000ff" stroke-width="1.55"/>
<path d="M206.1,219.8 L206.6,219.8 L207.1,219.8 L207.6,219.79 L208.1,219.79 L208.6,219.78 L209.1,219.77 L209.6,219.76 L210.1,219.75 L210.6,219.73 L211.1,219.72 L211.6,219.7 L212.1,219.68 L212.6,219.67 L213.1,219.65 L213.6,219.63 L214.1,219.6 L214.6,219.58 L215.1,219.56 L215.6,219.54 L216.1,219.51 L216.6,219.49 L217.1,219.46 L217.6,219.43 L218.1,219.41 L218.6,219.38 L219.1,219.34 L219.6,219.31 L220.1,219.27 L220.6,219.22 L221.1,219.18 L221.6,219.13 L222.1,219.08 L222.6,219.02 L223.1,218.97 L223.6,218.91 L224.1,218.86 L224.6,218.8 L225.1,218.74 L225.6,218.69 L226.1,218.63 L226.6,218.58 L227.1,218.52 L227.6,218.47 L228.1,218.41 L228.6,218.36 L229.1,218.3 L229.6,218.25 L230.1,218.19 L230.6,218.13 L231.1,218.08 L231.6,218.02 L232.1,217.96 L232.6,217.9 L233.1,217.83 L233.6,217.77 L234.1,217.71 L234.6,217.64 L235.1,217.58 L235.6,217.51 L236.1,217.44 L236.6,217.37 L237.1,217.29 L237.6,217.21 L238.1,217.11 L238.6,217.01 L239.1,216.9 L239.6,216.78 L240.1,216.66 L240.6,216.53 L241.1,216.4 L241.6,216.25 L242.1,216.1 L242.6,215.91 L243.1,215.7 L243.6,215.46 L244.1,215.19 L244.6,214.92 L245.1,214.63 L245.6,214.33 L246.1,214.01 L246.6,213.66 L247.1,213.3 L247.6,212.93 L248.1,212.58 L248.6,212.24 L249.1,211.92 L249.6,211.62 L250.1,211.32 L250.6,211.02 L251.1,210.72 L251.6,210.42 L252.1,210.11 L252.6,209.8 L253.1,209.49 L253.6,209.17 L254.1,208.86 L254.6,208.55 L255.1,208.24 L255.6,207.94 L256.1,207.64 L256.6,207.36 L257.1,207.08 L257.6,206.82 L258.1,206.56 L258.6,206.31 L259.1,206.06 L259.6,205.82 L260.1,205.58 L260.6,205.34 L261.1,205.09 L261.6,204.85 L262.1,204.6 L262.6,204.33 L263.1,204.06 L263.6,203.79 L264.1,203.53 L264.6,203.27 L265.1,203.02 L265.6,202.79 L266.1,202.59 L266.6,202.41 L267.1,202.26 L267.6,202.15 L268.1,202.06 L268.6,201.98 L269.1,201.89 L269.6,201.79 L270.1,201.67 L270.6,201.53 L271.1,201.37 L271.6,201.2 L272.1,201.03 L272.6,200.85 L273.1,200.64 L273.6,200.38 L274.1,200.09 L274.6,199.85 L275.1,199.78 L275.6,200.03 L276.1,200.55 L276.6,201.24 L277.1,202.14 L277.6,203.18 L278.1,204.21 L278.6,205.12 L279.1,205.94 L279.6,206.7 L280.1,207.4 L280.6,208.02 L281.1,208.57 L281.6,209.08 L282.1,209.58 L282.6,210.09 L283.1,210.64 L283.6,211.2 L284.1,211.77 L284.6,212.34 L285.1,212.91 L285.6,213.48 L286.1,214.04 L286.6,214.62 L287.1,215.2 L287.6,215.75 L288.1,216.27 L288.6,216.72 L289.1,217.12 L289.6,217.48 L290.1,217.8 L290.6,218.09 L291.1,218.31 L291.6,218.47 L292.1,218.57 L292.6,218.66 L293.1,218.74 L293.6,218.82 L294.1,218.89 L294.6,218.96 L295.1,219.03 L295.6,219.09 L296.1,219.14 L296.6,219.19 L297.1,219.24 L297.6,219.28 L298.1,219.33 L298.6,219.38 L299.1,219.42 L299.6,219.47 L300.1,219.51 L300.6,219.55 L301.1,219.59 L301.6,219.63 L302.1,219.67 L302.6,219.7 L303.1,219.73 L303.6,219.77 L304.1,219.8 L304.6,219.83 L305.1,219.86 L305.6,219.89 L306.1,219.92 L306.6,219.95 L307.1,219.98 L307.6,220.01 L308.1,220.03 L308.6,220.05 L309.1,220.07 L309.6,220.09 L310.1,220.1 L310.6,220.11 L311.1,220.13 L311.6,220.14 L312.1,220.15 L312.6,220.16 L313.1,220.16 L313.6,220.17 L314.1,220.18 L314.6,220.19 L315.1,220.19 L315.6,220.2 L316.1,220.21 L316.6,220.21 L317.1,220.22 L317.6,220.22 L318.1,220.23 L318.6,220.23 L319.1,220.23 L319.6,220.23 L320.1,220.24 L320.6,220.24 L321.1,220.24 L321.6,220.24 L322.1,220.24 L322.6,220.24 L323.1,220.24 L323.6,220.24 L324.1,220.24 L324.6,220.23 L325.1,220.23 L325.6,220.23 L326.1,220.22 L326.6,220.22 L327.1,220.22 L327.6,220.21 L328.1,220.21 L328.6,220.2 L329.1,220.2 L329.6,220.19 L330.1,220.18 L330.6,220.18 L331.1,220.17 L331.6,220.16 L332.1,220.15 L332.6,220.14 L333.1,220.14 L333.6,220.13 L334.1,220.12 L334.6,220.11 L335,220.1" stroke="#0000ff" stroke-width="1.8"/>
<path d="M72.8,254.52 L73.3,254.54 L73.8,254.57 L74.3,254.6 L74.8,254.63 L75.3,254.66 L75.8,254.69 L76.3,254.72 L76.8,254.74 L77.3,254.76 L77.8,254.79 L78.3,254.81 L78.8,254.83 L79.3,254.84 L79.8,254.86 L80.3,254.87 L80.8,254.89 L81.3,254.9 L81.8,254.91 L82.3,254.91 L82.8,254.92 L83.3,254.92 L83.8,254.92 L84.3,254.92 L84.8,254.92 L85.3,254.92 L85.8,254.92 L86.3,254.91 L86.8,254.9 L87.3,254.89 L87.8,254.88 L88.3,254.86 L88.8,254.84 L89.3,254.83 L89.8,254.8 L90.3,254.78 L90.8,254.74 L91.3,254.71 L91.8,254.66 L92.3,254.62 L92.8,254.56 L93.3,254.5 L93.8,254.44 L94.3,254.37 L94.8,254.3 L95.3,254.22 L95.8,254.14 L96.3,254.06 L96.8,253.97 L97.3,253.89 L97.8,253.8 L98.3,253.71 L98.8,253.62 L99.3,253.52 L99.8,253.43 L100.3,253.32 L100.8,253.21 L101.3,253.08 L101.8,252.94 L102.3,252.79 L102.8,252.63 L103.3,252.46 L103.8,252.29 L104.3,252.11 L104.8,251.92 L105.3,251.72 L105.8,251.51 L106.3,251.28 L106.8,251.04 L107.3,250.78 L107.8,250.5 L108.3,250.21 L108.8,249.9 L109.3,249.57 L109.8,249.22 L110.3,248.85 L110.8,248.44 L111.3,248 L111.8,247.52 L112.3,247.01 L112.8,246.48 L113.3,245.92 L113.8,245.35 L114.3,244.77 L114.8,244.18 L115.3,243.57 L115.8,242.94 L116.3,242.29 L116.8,241.62 L117.3,240.93 L117.8,240.23 L118.3,239.51 L118.8,238.77 L119.3,238.03 L119.8,237.26 L120.3,236.48 L120.8,235.67 L121.3,234.85 L121.8,234.01 L122.3,233.18 L122.8,232.36 L123.3,231.56 L123.8,230.77 L124.3,230.01 L124.8,229.28 L125.3,228.59 L125.8,227.97 L126.3,227.43 L126.8,226.98 L127.3,226.64 L127.8,226.42 L128.3,226.33 L128.8,226.38 L129.3,226.55 L129.8,226.8 L130.3,227.09 L130.8,227.4 L131.3,227.68 L131.8,227.94 L132.3,228.16 L132.8,228.37 L133.3,228.57 L133.8,228.75 L134.3,228.93 L134.8,229.11 L135.3,229.29 L135.8,229.46 L136.3,229.62 L136.8,229.78 L137.3,229.94 L137.8,230.1 L138.3,230.26 L138.8,230.44 L139.3,230.65 L139.8,230.89 L140.3,231.17 L140.8,231.52 L141.3,231.93 L141.8,232.39 L142.3,232.9 L142.8,233.44 L143.3,234.01 L143.8,234.59 L144.3,235.18 L144.8,235.79 L145.3,236.42 L145.8,237.06 L146.3,237.71 L146.8,238.36 L147.3,239.01 L147.8,239.66 L148.3,240.3 L148.8,240.93 L149.3,241.56 L149.8,242.18 L150.3,242.79 L150.8,243.4 L151.3,243.99 L151.8,244.57 L152.3,245.14 L152.8,245.71 L153.3,246.26 L153.8,246.79 L154.3,247.31 L154.8,247.79 L155.3,248.23 L155.8,248.64 L156.3,249.01 L156.8,249.36 L157.3,249.68 L157.8,249.98 L158.3,250.27 L158.8,250.55 L159.3,250.83 L159.8,251.1 L160.3,251.37 L160.8,251.63 L161.3,251.9 L161.8,252.16 L162.3,252.42 L162.8,252.67 L163.3,252.92 L163.8,253.17 L164.3,253.41 L164.8,253.65 L165.3,253.9 L165.8,254.14 L166.3,254.39 L166.8,254.62 L167.3,254.85 L167.8,255.06 L168.3,255.24 L168.8,255.38 L169.3,255.5 L169.8,255.59 L170.3,255.66 L170.8,255.72 L171.3,255.76 L171.8,255.81 L172.3,255.85 L172.8,255.89 L173.3,255.93 L173.8,255.96 L174.3,255.99 L174.8,256.03 L175.3,256.06 L175.8,256.09 L176.3,256.11 L176.8,256.14 L177.3,256.17 L177.8,256.19 L178.3,256.22 L178.8,256.24 L179.3,256.27 L179.8,256.29 L180.3,256.31 L180.8,256.34 L181.3,256.36 L181.8,256.39 L182.3,256.41 L182.8,256.44 L183.3,256.46 L183.8,256.49 L184.3,256.51 L184.8,256.54 L185.3,256.57 L185.8,256.59 L186.3,256.62 L186.8,256.64 L187.3,256.67 L187.8,256.69 L188.3,256.72 L188.8,256.74 L189.3,256.77 L189.8,256.79 L190.3,256.82 L190.8,256.84 L191.3,256.87 L191.8,256.89 L192.3,256.92 L192.8,256.94 L193.3,256.96 L193.8,256.99 L194.3,257.01 L194.8,257.03 L195.3,257.06 L195.8,257.08 L196.3,257.1 L196.8,257.12 L197.3,257.14 L197.8,257.16 L198.3,257.18 L198.8,257.2 L199.3,257.22 L199.8,257.24 L200.3,257.25 L200.8,257.27 L201.3,257.28 L201.6,257.29" stroke="#ff0000" stroke-width="1.5"/>
<path d="M206.1,254.6 L206.6,254.59 L207.1,254.59 L207.6,254.58 L208.1,254.56 L208.6,254.55 L209.1,254.54 L209.6,254.52 L210.1,254.5 L210.6,254.48 L211.1,254.46 L211.6,254.44 L212.1,254.42 L212.6,254.4 L213.1,254.37 L213.6,254.35 L214.1,254.32 L214.6,254.3 L215.1,254.27 L215.6,254.24 L216.1,254.21 L216.6,254.19 L217.1,254.16 L217.6,254.13 L218.1,254.11 L218.6,254.08 L219.1,254.05 L219.6,254.01 L220.1,253.97 L220.6,253.93 L221.1,253.89 L221.6,253.85 L222.1,253.8 L222.6,253.75 L223.1,253.7 L223.6,253.64 L224.1,253.59 L224.6,253.53 L225.1,253.47 L225.6,253.41 L226.1,253.35 L226.6,253.29 L227.1,253.23 L227.6,253.16 L228.1,253.09 L228.6,253.01 L229.1,252.93 L229.6,252.84 L230.1,252.74 L230.6,252.65 L231.1,252.55 L231.6,252.44 L232.1,252.34 L232.6,252.23 L233.1,252.12 L233.6,252.01 L234.1,251.9 L234.6,251.79 L235.1,251.68 L235.6,251.57 L236.1,251.46 L236.6,251.36 L237.1,251.26 L237.6,251.15 L238.1,251.05 L238.6,250.94 L239.1,250.83 L239.6,250.7 L240.1,250.57 L240.6,250.42 L241.1,250.25 L241.6,250.07 L242.1,249.83 L242.6,249.5 L243.1,249.08 L243.6,248.6 L244.1,248.09 L244.6,247.59 L245.1,247.14 L245.6,246.73 L246.1,246.36 L246.6,246.01 L247.1,245.66 L247.6,245.34 L248.1,245.04 L248.6,244.79 L249.1,244.57 L249.6,244.39 L250.1,244.24 L250.6,244.11 L251.1,243.98 L251.6,243.85 L252.1,243.72 L252.6,243.56 L253.1,243.39 L253.6,243.21 L254.1,243.02 L254.6,242.82 L255.1,242.63 L255.6,242.43 L256.1,242.23 L256.6,242.03 L257.1,241.84 L257.6,241.64 L258.1,241.45 L258.6,241.26 L259.1,241.07 L259.6,240.88 L260.1,240.7 L260.6,240.51 L261.1,240.32 L261.6,240.12 L262.1,239.93 L262.6,239.72 L263.1,239.51 L263.6,239.3 L264.1,239.07 L264.6,238.82 L265.1,238.56 L265.6,238.28 L266.1,237.98 L266.6,237.67 L267.1,237.35 L267.6,237.01 L268.1,236.66 L268.6,236.29 L269.1,235.89 L269.6,235.45 L270.1,234.97 L270.6,234.46 L271.1,233.93 L271.6,233.39 L272.1,232.84 L272.6,232.27 L273.1,231.65 L273.6,230.97 L274.1,230.27 L274.6,229.6 L275.1,229 L275.6,228.56 L276.1,228.43 L276.6,228.75 L277.1,229.44 L277.6,230.5 L278.1,232.03 L278.6,233.76 L279.1,235.34 L279.6,236.76 L280.1,238.07 L280.6,239.19 L281.1,240.08 L281.6,240.81 L282.1,241.44 L282.6,241.98 L283.1,242.42 L283.6,242.77 L284.1,243.1 L284.6,243.54 L285.1,244.17 L285.6,245.01 L286.1,245.94 L286.6,246.84 L287.1,247.66 L287.6,248.43 L288.1,249.16 L288.6,249.82 L289.1,250.39 L289.6,250.86 L290.1,251.29 L290.6,251.7 L291.1,252.06 L291.6,252.37 L292.1,252.61 L292.6,252.77 L293.1,252.86 L293.6,252.93 L294.1,253 L294.6,253.07 L295.1,253.14 L295.6,253.2 L296.1,253.26 L296.6,253.31 L297.1,253.37 L297.6,253.42 L298.1,253.47 L298.6,253.51 L299.1,253.56 L299.6,253.6 L300.1,253.64 L300.6,253.68 L301.1,253.73 L301.6,253.77 L302.1,253.82 L302.6,253.86 L303.1,253.91 L303.6,253.95 L304.1,254 L304.6,254.04 L305.1,254.08 L305.6,254.12 L306.1,254.17 L306.6,254.2 L307.1,254.24 L307.6,254.27 L308.1,254.31 L308.6,254.33 L309.1,254.36 L309.6,254.38 L310.1,254.4 L310.6,254.42 L311.1,254.44 L311.6,254.46 L312.1,254.47 L312.6,254.49 L313.1,254.5 L313.6,254.52 L314.1,254.53 L314.6,254.54 L315.1,254.56 L315.6,254.57 L316.1,254.58 L316.6,254.59 L317.1,254.6 L317.6,254.61 L318.1,254.62 L318.6,254.63 L319.1,254.64 L319.6,254.64 L320.1,254.65 L320.6,254.66 L321.1,254.66 L321.6,254.67 L322.1,254.67 L322.6,254.68 L323.1,254.68 L323.6,254.68 L324.1,254.69 L324.6,254.69 L325.1,254.69 L325.6,254.69 L326.1,254.69 L326.6,254.69 L327.1,254.69 L327.6,254.69 L328.1,254.68 L328.6,254.68 L329.1,254.68 L329.6,254.68 L330.1,254.67 L330.6,254.67 L331.1,254.66 L331.6,254.65 L332.1,254.65 L332.6,254.64 L333.1,254.63 L333.6,254.63 L334.1,254.62 L334.6,254.61 L335,254.6" stroke="#ff0000" stroke-width="1.75"/>
<path d="M72.8,291.6 L73.3,291.6 L73.8,291.6 L74.3,291.6 L74.8,291.6 L75.3,291.59 L75.8,291.59 L76.3,291.58 L76.8,291.57 L77.3,291.55 L77.8,291.54 L78.3,291.52 L78.8,291.5 L79.3,291.48 L79.8,291.46 L80.3,291.43 L80.8,291.41 L81.3,291.38 L81.8,291.36 L82.3,291.33 L82.8,291.3 L83.3,291.27 L83.8,291.24 L84.3,291.2 L84.8,291.17 L85.3,291.14 L85.8,291.1 L86.3,291.07 L86.8,291.03 L87.3,291 L87.8,290.96 L88.3,290.92 L88.8,290.89 L89.3,290.85 L89.8,290.81 L90.3,290.77 L90.8,290.72 L91.3,290.67 L91.8,290.62 L92.3,290.55 L92.8,290.49 L93.3,290.41 L93.8,290.34 L94.3,290.25 L94.8,290.17 L95.3,290.08 L95.8,289.98 L96.3,289.89 L96.8,289.79 L97.3,289.68 L97.8,289.58 L98.3,289.47 L98.8,289.36 L99.3,289.25 L99.8,289.13 L100.3,289 L100.8,288.85 L101.3,288.69 L101.8,288.51 L102.3,288.31 L102.8,288.09 L103.3,287.86 L103.8,287.63 L104.3,287.39 L104.8,287.13 L105.3,286.87 L105.8,286.58 L106.3,286.29 L106.8,285.97 L107.3,285.63 L107.8,285.28 L108.3,284.92 L108.8,284.54 L109.3,284.15 L109.8,283.75 L110.3,283.32 L110.8,282.87 L111.3,282.4 L111.8,281.9 L112.3,281.37 L112.8,280.82 L113.3,280.25 L113.8,279.65 L114.3,279.02 L114.8,278.35 L115.3,277.63 L115.8,276.87 L116.3,276.06 L116.8,275.2 L117.3,274.27 L117.8,273.28 L118.3,272.24 L118.8,271.14 L119.3,269.99 L119.8,268.81 L120.3,267.58 L120.8,266.34 L121.3,265.12 L121.8,263.97 L122.3,262.93 L122.8,262.05 L123.3,261.34 L123.8,260.86 L124.3,260.62 L124.8,260.62 L125.3,260.83 L125.8,261.21 L126.3,261.73 L126.8,262.36 L127.3,263.05 L127.8,263.74 L128.3,264.36 L128.8,264.9 L129.3,265.33 L129.8,265.68 L130.3,265.95 L130.8,266.14 L131.3,266.25 L131.8,266.28 L132.3,266.25 L132.8,266.19 L133.3,266.11 L133.8,266.03 L134.3,265.98 L134.8,265.94 L135.3,265.94 L135.8,265.97 L136.3,266.04 L136.8,266.14 L137.3,266.29 L137.8,266.49 L138.3,266.75 L138.8,267.06 L139.3,267.4 L139.8,267.77 L140.3,268.16 L140.8,268.56 L141.3,268.98 L141.8,269.42 L142.3,269.86 L142.8,270.31 L143.3,270.76 L143.8,271.21 L144.3,271.64 L144.8,272.07 L145.3,272.49 L145.8,272.92 L146.3,273.35 L146.8,273.8 L147.3,274.27 L147.8,274.77 L148.3,275.32 L148.8,275.9 L149.3,276.52 L149.8,277.16 L150.3,277.81 L150.8,278.44 L151.3,279.05 L151.8,279.63 L152.3,280.17 L152.8,280.69 L153.3,281.17 L153.8,281.63 L154.3,282.07 L154.8,282.46 L155.3,282.82 L155.8,283.13 L156.3,283.4 L156.8,283.65 L157.3,283.86 L157.8,284.07 L158.3,284.27 L158.8,284.47 L159.3,284.7 L159.8,284.94 L160.3,285.19 L160.8,285.47 L161.3,285.75 L161.8,286.05 L162.3,286.35 L162.8,286.65 L163.3,286.97 L163.8,287.29 L164.3,287.63 L164.8,287.98 L165.3,288.34 L165.8,288.7 L166.3,289.06 L166.8,289.4 L167.3,289.71 L167.8,289.98 L168.3,290.22 L168.8,290.42 L169.3,290.59 L169.8,290.73 L170.3,290.86 L170.8,290.98 L171.3,291.08 L171.8,291.17 L172.3,291.24 L172.8,291.31 L173.3,291.36 L173.8,291.41 L174.3,291.45 L174.8,291.49 L175.3,291.53 L175.8,291.57 L176.3,291.6 L176.8,291.64 L177.3,291.67 L177.8,291.7 L178.3,291.73 L178.8,291.75 L179.3,291.77 L179.8,291.79 L180.3,291.81 L180.8,291.82 L181.3,291.83 L181.8,291.85 L182.3,291.86 L182.8,291.87 L183.3,291.89 L183.8,291.9 L184.3,291.91 L184.8,291.93 L185.3,291.94 L185.8,291.95 L186.3,291.96 L186.8,291.98 L187.3,291.99 L187.8,292 L188.3,292.02 L188.8,292.03 L189.3,292.04 L189.8,292.05 L190.3,292.06 L190.8,292.07 L191.3,292.09 L191.8,292.1 L192.3,292.11 L192.8,292.12 L193.3,292.13 L193.8,292.13 L194.3,292.14 L194.8,292.15 L195.3,292.16 L195.8,292.16 L196.3,292.17 L196.8,292.18 L197.3,292.18 L197.8,292.19 L198.3,292.19 L198.8,292.19 L199.3,292.2 L199.8,292.2 L200.3,292.2 L200.8,292.2 L201.3,292.2 L201.6,292.2" stroke="#000000" stroke-width="1.5"/>
<path d="M206.1,290.5 L206.6,290.49 L207.1,290.49 L207.6,290.48 L208.1,290.47 L208.6,290.46 L209.1,290.45 L209.6,290.44 L210.1,290.43 L210.6,290.42 L211.1,290.41 L211.6,290.39 L212.1,290.38 L212.6,290.37 L213.1,290.35 L213.6,290.34 L214.1,290.32 L214.6,290.31 L215.1,290.3 L215.6,290.28 L216.1,290.27 L216.6,290.25 L217.1,290.23 L217.6,290.22 L218.1,290.2 L218.6,290.18 L219.1,290.16 L219.6,290.13 L220.1,290.11 L220.6,290.09 L221.1,290.07 L221.6,290.04 L222.1,290.02 L222.6,289.99 L223.1,289.97 L223.6,289.94 L224.1,289.92 L224.6,289.89 L225.1,289.87 L225.6,289.84 L226.1,289.8 L226.6,289.77 L227.1,289.73 L227.6,289.68 L228.1,289.64 L228.6,289.59 L229.1,289.54 L229.6,289.49 L230.1,289.44 L230.6,289.39 L231.1,289.33 L231.6,289.28 L232.1,289.22 L232.6,289.17 L233.1,289.11 L233.6,289.06 L234.1,289 L234.6,288.94 L235.1,288.88 L235.6,288.81 L236.1,288.72 L236.6,288.61 L237.1,288.49 L237.6,288.34 L238.1,288.19 L238.6,288.03 L239.1,287.84 L239.6,287.57 L240.1,287.19 L240.6,286.71 L241.1,286.17 L241.6,285.56 L242.1,284.89 L242.6,284.1 L243.1,283.2 L243.6,282.26 L244.1,281.33 L244.6,280.43 L245.1,279.5 L245.6,278.64 L246.1,278.05 L246.6,277.84 L247.1,277.86 L247.6,277.98 L248.1,278.14 L248.6,278.3 L249.1,278.43 L249.6,278.48 L250.1,278.46 L250.6,278.37 L251.1,278.25 L251.6,278.12 L252.1,278 L252.6,277.89 L253.1,277.82 L253.6,277.81 L254.1,277.89 L254.6,278.08 L255.1,278.37 L255.6,278.69 L256.1,279 L256.6,279.25 L257.1,279.43 L257.6,279.59 L258.1,279.75 L258.6,279.89 L259.1,280.02 L259.6,280.13 L260.1,280.22 L260.6,280.28 L261.1,280.32 L261.6,280.33 L262.1,280.31 L262.6,280.27 L263.1,280.22 L263.6,280.15 L264.1,280.08 L264.6,279.99 L265.1,279.86 L265.6,279.67 L266.1,279.42 L266.6,279.14 L267.1,278.82 L267.6,278.48 L268.1,278.06 L268.6,277.5 L269.1,276.82 L269.6,276.04 L270.1,275.18 L270.6,274.25 L271.1,273.14 L271.6,271.76 L272.1,270.13 L272.6,268.34 L273.1,266.32 L273.6,264.1 L274.1,261.89 L274.6,259.87 L275.1,258.11 L275.6,256.86 L276.1,256.56 L276.6,257.38 L277.1,259.19 L277.6,261.97 L278.1,265.16 L278.6,267.84 L279.1,270.06 L279.6,271.81 L280.1,272.96 L280.6,273.71 L281.1,274.18 L281.6,274.28 L282.1,274.03 L282.6,273.61 L283.1,273.28 L283.6,273.35 L284.1,274.04 L284.6,275.24 L285.1,276.9 L285.6,278.89 L286.1,280.76 L286.6,282.41 L287.1,283.86 L287.6,285.01 L288.1,285.81 L288.6,286.4 L289.1,286.91 L289.6,287.32 L290.1,287.64 L290.6,287.87 L291.1,288.07 L291.6,288.26 L292.1,288.45 L292.6,288.63 L293.1,288.8 L293.6,288.96 L294.1,289.11 L294.6,289.23 L295.1,289.33 L295.6,289.41 L296.1,289.48 L296.6,289.55 L297.1,289.61 L297.6,289.68 L298.1,289.75 L298.6,289.82 L299.1,289.88 L299.6,289.94 L300.1,290.01 L300.6,290.06 L301.1,290.12 L301.6,290.17 L302.1,290.22 L302.6,290.26 L303.1,290.3 L303.6,290.34 L304.1,290.36 L304.6,290.39 L305.1,290.4 L305.6,290.42 L306.1,290.43 L306.6,290.44 L307.1,290.45 L307.6,290.46 L308.1,290.47 L308.6,290.48 L309.1,290.49 L309.6,290.5 L310.1,290.51 L310.6,290.52 L311.1,290.53 L311.6,290.53 L312.1,290.54 L312.6,290.55 L313.1,290.55 L313.6,290.56 L314.1,290.56 L314.6,290.57 L315.1,290.57 L315.6,290.57 L316.1,290.58 L316.6,290.58 L317.1,290.58 L317.6,290.58 L318.1,290.58 L318.6,290.58 L319.1,290.58 L319.6,290.58 L320.1,290.57 L320.6,290.57 L321.1,290.57 L321.6,290.56 L322.1,290.56 L322.6,290.55 L323.1,290.55 L323.6,290.54 L324.1,290.53 L324.6,290.53 L325.1,290.52 L325.6,290.51 L326.1,290.5 L326.6,290.49 L327.1,290.48 L327.6,290.46 L328.1,290.45 L328.6,290.44 L329.1,290.42 L329.6,290.41 L330.1,290.39 L330.6,290.38 L331.1,290.36 L331.6,290.34 L332.1,290.32 L332.6,290.3 L333.1,290.28 L333.6,290.26 L334.1,290.24 L334.6,290.22 L335,290.2" stroke="#444444" stroke-width="1.95"/>
</g>
<line x1="136.4" y1="71.2" x2="136.4" y2="76.6" stroke="#555555" stroke-width="1"/>
<line x1="149.3" y1="71.2" x2="149.3" y2="76.6" stroke="#555555" stroke-width="1"/>
<line x1="152.5" y1="71.2" x2="152.5" y2="76.6" stroke="#ff5050" stroke-width="1"/>
<line x1="165.6" y1="71.2" x2="165.6" y2="76.6" stroke="#ff5050" stroke-width="1"/>
<line x1="260.5" y1="75.2" x2="260.5" y2="80.6" stroke="#555555" stroke-width="1"/>
<line x1="268" y1="75.2" x2="268" y2="80.6" stroke="#8c8c8c" stroke-width="1"/>
<line x1="279" y1="75.2" x2="279" y2="80.6" stroke="#ff5050" stroke-width="1"/>
<line x1="286.8" y1="75.2" x2="286.8" y2="80.6" stroke="#ff5050" stroke-width="1"/>
<line x1="128.3" y1="108.2" x2="128.3" y2="113.6" stroke="#555555" stroke-width="1"/>
<line x1="141.5" y1="108.2" x2="141.5" y2="113.6" stroke="#555555" stroke-width="1"/>
<line x1="147.4" y1="108.2" x2="147.4" y2="113.6" stroke="#ff5050" stroke-width="1"/>
<line x1="160.5" y1="108.2" x2="160.5" y2="113.6" stroke="#ff5050" stroke-width="1"/>
<line x1="253.2" y1="112" x2="253.2" y2="117.6" stroke="#555555" stroke-width="1"/>
<line x1="260.9" y1="112" x2="260.9" y2="117.6" stroke="#8c8c8c" stroke-width="1"/>
<line x1="276.1" y1="112" x2="276.1" y2="117.6" stroke="#ff5050" stroke-width="1"/>
<line x1="283.8" y1="112" x2="283.8" y2="117.6" stroke="#ff5050" stroke-width="1"/>
<line x1="125.7" y1="145.6" x2="125.7" y2="151" stroke="#555555" stroke-width="1"/>
<line x1="138.5" y1="145.6" x2="138.5" y2="151" stroke="#555555" stroke-width="1"/>
<line x1="144.4" y1="145.6" x2="144.4" y2="151" stroke="#ff5050" stroke-width="1"/>
<line x1="157.5" y1="145.6" x2="157.5" y2="151" stroke="#ff5050" stroke-width="1"/>
<line x1="252.4" y1="148.6" x2="252.4" y2="154.4" stroke="#555555" stroke-width="1"/>
<line x1="260.2" y1="148.6" x2="260.2" y2="154.4" stroke="#8c8c8c" stroke-width="1"/>
<line x1="274.5" y1="148.6" x2="274.5" y2="154.4" stroke="#ff5050" stroke-width="1"/>
<line x1="282.3" y1="148.6" x2="282.3" y2="154.4" stroke="#ff5050" stroke-width="1"/>
<line x1="122.5" y1="179.2" x2="122.5" y2="185.4" stroke="#555555" stroke-width="1"/>
<line x1="135.6" y1="179.2" x2="135.6" y2="185.4" stroke="#555555" stroke-width="1"/>
<line x1="137" y1="179.2" x2="137" y2="185.4" stroke="#ff5050" stroke-width="1"/>
<line x1="150.5" y1="179.2" x2="150.5" y2="185.4" stroke="#ff5050" stroke-width="1"/>
<line x1="252.7" y1="181.4" x2="252.7" y2="188.4" stroke="#555555" stroke-width="1"/>
<line x1="260.5" y1="181.4" x2="260.5" y2="188.4" stroke="#8c8c8c" stroke-width="1"/>
<line x1="270" y1="181.4" x2="270" y2="188.4" stroke="#ff5050" stroke-width="1"/>
<line x1="277.7" y1="181.4" x2="277.7" y2="188.4" stroke="#ff5050" stroke-width="1"/>
<line x1="124" y1="215.6" x2="124" y2="221.8" stroke="#555555" stroke-width="1"/>
<line x1="136" y1="215.6" x2="136" y2="221.8" stroke="#555555" stroke-width="1"/>
<line x1="137.6" y1="215.6" x2="137.6" y2="221.8" stroke="#ff5050" stroke-width="1"/>
<line x1="150.5" y1="215.6" x2="150.5" y2="221.8" stroke="#ff5050" stroke-width="1"/>
<line x1="254.3" y1="219" x2="254.3" y2="226" stroke="#555555" stroke-width="1"/>
<line x1="262.2" y1="219" x2="262.2" y2="226" stroke="#8c8c8c" stroke-width="1"/>
<line x1="270" y1="219" x2="270" y2="226" stroke="#ff5050" stroke-width="1"/>
<line x1="278.1" y1="219" x2="278.1" y2="226" stroke="#ff5050" stroke-width="1"/>
<line x1="123.9" y1="251.6" x2="123.9" y2="257.6" stroke="#555555" stroke-width="1"/>
<line x1="136.4" y1="251.6" x2="136.4" y2="257.6" stroke="#555555" stroke-width="1"/>
<line x1="139.6" y1="251.6" x2="139.6" y2="257.6" stroke="#ff5050" stroke-width="1"/>
<line x1="152.6" y1="251.6" x2="152.6" y2="257.6" stroke="#ff5050" stroke-width="1"/>
<line x1="252.7" y1="251.4" x2="252.7" y2="258.6" stroke="#555555" stroke-width="1"/>
<line x1="260.5" y1="251.4" x2="260.5" y2="258.6" stroke="#8c8c8c" stroke-width="1"/>
<line x1="271.2" y1="251.4" x2="271.2" y2="258.6" stroke="#ff5050" stroke-width="1"/>
<line x1="279.4" y1="251.4" x2="279.4" y2="258.6" stroke="#ff5050" stroke-width="1"/>
<line x1="121.7" y1="290.2" x2="121.7" y2="296.8" stroke="#555555" stroke-width="1"/>
<line x1="134.6" y1="290.2" x2="134.6" y2="296.8" stroke="#555555" stroke-width="1"/>
<line x1="143.5" y1="290.2" x2="143.5" y2="296.8" stroke="#ff5050" stroke-width="1"/>
<line x1="156.5" y1="290.2" x2="156.5" y2="296.8" stroke="#ff5050" stroke-width="1"/>
<line x1="248.4" y1="288.6" x2="248.4" y2="295.4" stroke="#555555" stroke-width="1"/>
<line x1="255.3" y1="288.6" x2="255.3" y2="295.4" stroke="#555555" stroke-width="1"/>
<line x1="273.4" y1="288.6" x2="273.4" y2="295.4" stroke="#ff5050" stroke-width="1"/>
<line x1="281.5" y1="288.6" x2="281.5" y2="295.4" stroke="#ff5050" stroke-width="1"/>
<text x="187" y="73.5" font-family='"Liberation Sans", sans-serif' font-size="10.2" fill="#ff20ff" text-anchor="start" font-weight="normal" textLength="14" lengthAdjust="spacingAndGlyphs" stroke="#ff20ff" stroke-width="0.15">x =</text>
<text x="206.1" y="73.5" font-family='"Liberation Sans", sans-serif' font-size="10.2" fill="#ff20ff" text-anchor="start" font-weight="normal" textLength="19.1" lengthAdjust="spacingAndGlyphs" stroke="#ff20ff" stroke-width="0.15">0.10</text>
<text x="187" y="109.3" font-family='"Liberation Sans", sans-serif' font-size="10.2" fill="#7a30c8" text-anchor="start" font-weight="normal" textLength="14" lengthAdjust="spacingAndGlyphs" stroke="#7a30c8" stroke-width="0.15">x =</text>
<text x="206.1" y="109.3" font-family='"Liberation Sans", sans-serif' font-size="10.2" fill="#7a30c8" text-anchor="start" font-weight="normal" textLength="19.1" lengthAdjust="spacingAndGlyphs" stroke="#7a30c8" stroke-width="0.15">0.05</text>
<text x="185.7" y="140.8" font-family='"Liberation Sans", sans-serif' font-size="10.2" fill="#f28a3c" text-anchor="start" font-weight="normal" textLength="14.7" lengthAdjust="spacingAndGlyphs" stroke="#f28a3c" stroke-width="0.08">x =</text>
<text x="204.2" y="140.8" font-family='"Liberation Sans", sans-serif' font-size="10.2" fill="#f28a3c" text-anchor="start" font-weight="normal" textLength="25.2" lengthAdjust="spacingAndGlyphs" stroke="#f28a3c" stroke-width="0.08">0.025</text>
<text x="186.1" y="176.1" font-family='"Liberation Sans", sans-serif' font-size="10.2" fill="#6a9858" text-anchor="start" font-weight="normal" textLength="14.3" lengthAdjust="spacingAndGlyphs" stroke="#6a9858" stroke-width="0.04">y =</text>
<text x="204.8" y="176.1" font-family='"Liberation Sans", sans-serif' font-size="10.2" fill="#6a9858" text-anchor="start" font-weight="normal" textLength="19.5" lengthAdjust="spacingAndGlyphs" stroke="#6a9858" stroke-width="0.04">0.06</text>
<text x="185.7" y="213.2" font-family='"Liberation Sans", sans-serif' font-size="10.2" fill="#2222e8" text-anchor="start" font-weight="normal" textLength="14.5" lengthAdjust="spacingAndGlyphs" stroke="#2222e8" stroke-width="0.18">y =</text>
<text x="204.2" y="213.2" font-family='"Liberation Sans", sans-serif' font-size="10.2" fill="#2222e8" text-anchor="start" font-weight="normal" textLength="19.7" lengthAdjust="spacingAndGlyphs" stroke="#2222e8" stroke-width="0.18">0.04</text>
<text x="185.1" y="251.1" font-family='"Liberation Sans", sans-serif' font-size="10.2" fill="#ff1a1a" text-anchor="start" font-weight="normal" textLength="14.6" lengthAdjust="spacingAndGlyphs" stroke="#ff1a1a" stroke-width="0.15">y =</text>
<text x="203.5" y="251.1" font-family='"Liberation Sans", sans-serif' font-size="10.2" fill="#ff1a1a" text-anchor="start" font-weight="normal" textLength="19.8" lengthAdjust="spacingAndGlyphs" stroke="#ff1a1a" stroke-width="0.15">0.02</text>
<text x="190.8" y="286.1" font-family='"Liberation Sans", sans-serif' font-size="10" fill="#222" stroke="#222" stroke-width="0.15"><tspan textLength="27.3" lengthAdjust="spacingAndGlyphs">BaTiO</tspan><tspan font-size="7.2" dy="2">3</tspan></text>
<text x="116.3" y="308.7" font-family='"Liberation Sans", sans-serif' font-size="8.8" fill="#333" text-anchor="start" font-weight="normal" textLength="21.5" lengthAdjust="spacingAndGlyphs" stroke="#333" stroke-width="0.08">(101)</text>
<text x="139.9" y="308.7" font-family='"Liberation Sans", sans-serif' font-size="8.8" fill="#ff2020" text-anchor="start" font-weight="normal" textLength="21.4" lengthAdjust="spacingAndGlyphs" stroke="#ff2020" stroke-width="0.08">(110)</text>
<text x="239.8" y="308.9" font-family='"Liberation Sans", sans-serif' font-size="8.8" fill="#333" text-anchor="start" font-weight="normal" textLength="21.3" lengthAdjust="spacingAndGlyphs" stroke="#333" stroke-width="0.08">(002)</text>
<text x="269.1" y="308.9" font-family='"Liberation Sans", sans-serif' font-size="8.8" fill="#ff2020" text-anchor="start" font-weight="normal" textLength="21.5" lengthAdjust="spacingAndGlyphs" stroke="#ff2020" stroke-width="0.08">(200)</text>
<line x1="385.5" y1="27.3" x2="542.3" y2="27.3" stroke="#4a4a4a" stroke-width="1.2"/>
<line x1="385.5" y1="152.6" x2="542.3" y2="152.6" stroke="#4a4a4a" stroke-width="1.2"/>
<line x1="385.5" y1="26.7" x2="385.5" y2="100.5" stroke="#666" stroke-width="1.2"/>
<line x1="385.5" y1="102.7" x2="385.5" y2="153.2" stroke="#666" stroke-width="1.2"/>
<line x1="542.3" y1="26.7" x2="542.3" y2="100.5" stroke="#777" stroke-width="1.2"/>
<line x1="542.3" y1="102.7" x2="542.3" y2="153.2" stroke="#777" stroke-width="1.2"/>
<line x1="382.9" y1="101.7" x2="388.1" y2="99.5" stroke="#222" stroke-width="0.9"/>
<line x1="382.9" y1="103.7" x2="388.1" y2="101.5" stroke="#222" stroke-width="0.9"/>
<line x1="539.7" y1="101.7" x2="544.9" y2="99.5" stroke="#222" stroke-width="0.9"/>
<line x1="539.7" y1="103.7" x2="544.9" y2="101.5" stroke="#222" stroke-width="0.9"/>
<line x1="385.5" y1="31.8" x2="387.3" y2="31.8" stroke="#555" stroke-width="0.9"/>
<line x1="385.5" y1="35.88" x2="387.3" y2="35.88" stroke="#555" stroke-width="0.9"/>
<line x1="385.5" y1="39.96" x2="387.3" y2="39.96" stroke="#555" stroke-width="0.9"/>
<line x1="385.5" y1="44.04" x2="387.3" y2="44.04" stroke="#555" stroke-width="0.9"/>
<line x1="385.5" y1="48.12" x2="387.3" y2="48.12" stroke="#555" stroke-width="0.9"/>
<line x1="385.5" y1="52.2" x2="387.3" y2="52.2" stroke="#555" stroke-width="0.9"/>
<line x1="385.5" y1="56.28" x2="387.3" y2="56.28" stroke="#555" stroke-width="0.9"/>
<line x1="385.5" y1="60.36" x2="387.3" y2="60.36" stroke="#555" stroke-width="0.9"/>
<line x1="385.5" y1="64.44" x2="387.3" y2="64.44" stroke="#555" stroke-width="0.9"/>
<line x1="385.5" y1="68.52" x2="387.3" y2="68.52" stroke="#555" stroke-width="0.9"/>
<line x1="385.5" y1="72.6" x2="387.3" y2="72.6" stroke="#555" stroke-width="0.9"/>
<line x1="385.5" y1="76.68" x2="387.3" y2="76.68" stroke="#555" stroke-width="0.9"/>
<line x1="385.5" y1="80.76" x2="387.3" y2="80.76" stroke="#555" stroke-width="0.9"/>
<line x1="385.5" y1="84.84" x2="387.3" y2="84.84" stroke="#555" stroke-width="0.9"/>
<line x1="385.5" y1="88.92" x2="387.3" y2="88.92" stroke="#555" stroke-width="0.9"/>
<line x1="385.5" y1="93" x2="387.3" y2="93" stroke="#555" stroke-width="0.9"/>
<line x1="385.5" y1="97.08" x2="387.3" y2="97.08" stroke="#555" stroke-width="0.9"/>
<line x1="385.5" y1="111" x2="387.3" y2="111" stroke="#555" stroke-width="0.9"/>
<line x1="385.5" y1="119.25" x2="387.3" y2="119.25" stroke="#555" stroke-width="0.9"/>
<line x1="385.5" y1="127.5" x2="387.3" y2="127.5" stroke="#555" stroke-width="0.9"/>
<line x1="385.5" y1="135.75" x2="387.3" y2="135.75" stroke="#555" stroke-width="0.9"/>
<line x1="385.5" y1="144" x2="387.3" y2="144" stroke="#555" stroke-width="0.9"/>
<line x1="398.4" y1="152.6" x2="398.4" y2="155.2" stroke="#555" stroke-width="0.9"/>
<line x1="424.5" y1="152.6" x2="424.5" y2="155.2" stroke="#555" stroke-width="0.9"/>
<line x1="450.6" y1="152.6" x2="450.6" y2="155.2" stroke="#555" stroke-width="0.9"/>
<line x1="476.7" y1="152.6" x2="476.7" y2="155.2" stroke="#555" stroke-width="0.9"/>
<line x1="502.8" y1="152.6" x2="502.8" y2="155.2" stroke="#555" stroke-width="0.9"/>
<line x1="528.9" y1="152.6" x2="528.9" y2="155.2" stroke="#555" stroke-width="0.9"/>
<line x1="385.5" y1="152.6" x2="385.5" y2="154" stroke="#555" stroke-width="0.9"/>
<line x1="411.4" y1="152.6" x2="411.4" y2="154" stroke="#555" stroke-width="0.9"/>
<line x1="437.5" y1="152.6" x2="437.5" y2="154" stroke="#555" stroke-width="0.9"/>
<line x1="463.6" y1="152.6" x2="463.6" y2="154" stroke="#555" stroke-width="0.9"/>
<line x1="489.7" y1="152.6" x2="489.7" y2="154" stroke="#555" stroke-width="0.9"/>
<line x1="515.8" y1="152.6" x2="515.8" y2="154" stroke="#555" stroke-width="0.9"/>
<line x1="541.9" y1="152.6" x2="541.9" y2="154" stroke="#555" stroke-width="0.9"/>
<text x="383.1" y="41.1" font-family='"Liberation Sans", sans-serif' font-size="9" fill="#222" text-anchor="end" font-weight="normal" textLength="17.6" lengthAdjust="spacingAndGlyphs" stroke="#222" stroke-width="0.18">45.6</text>
<text x="383.1" y="56.2" font-family='"Liberation Sans", sans-serif' font-size="9" fill="#222" text-anchor="end" font-weight="normal" textLength="17.6" lengthAdjust="spacingAndGlyphs" stroke="#222" stroke-width="0.18">45.4</text>
<text x="383.1" y="71.8" font-family='"Liberation Sans", sans-serif' font-size="9" fill="#222" text-anchor="end" font-weight="normal" textLength="17.6" lengthAdjust="spacingAndGlyphs" stroke="#222" stroke-width="0.18">45.2</text>
<text x="383.1" y="87.6" font-family='"Liberation Sans", sans-serif' font-size="9" fill="#222" text-anchor="end" font-weight="normal" textLength="17.6" lengthAdjust="spacingAndGlyphs" stroke="#222" stroke-width="0.18">45.0</text>
<text x="383.1" y="114.8" font-family='"Liberation Sans", sans-serif' font-size="9" fill="#222" text-anchor="end" font-weight="normal" textLength="17.6" lengthAdjust="spacingAndGlyphs" stroke="#222" stroke-width="0.18">31.7</text>
<text x="383.1" y="131.3" font-family='"Liberation Sans", sans-serif' font-size="9" fill="#222" text-anchor="end" font-weight="normal" textLength="17.6" lengthAdjust="spacingAndGlyphs" stroke="#222" stroke-width="0.18">31.6</text>
<text x="383.1" y="147.8" font-family='"Liberation Sans", sans-serif' font-size="9" fill="#222" text-anchor="end" font-weight="normal" textLength="17.6" lengthAdjust="spacingAndGlyphs" stroke="#222" stroke-width="0.18">31.5</text>
<text x="398.3" y="162" font-family='"Liberation Sans", sans-serif' font-size="7" fill="#333" text-anchor="middle" font-weight="normal" textLength="4" lengthAdjust="spacingAndGlyphs">0</text>
<text x="424.6" y="162" font-family='"Liberation Sans", sans-serif' font-size="7" fill="#333" text-anchor="middle" font-weight="normal" textLength="13.5" lengthAdjust="spacingAndGlyphs">0.02</text>
<text x="451" y="162" font-family='"Liberation Sans", sans-serif' font-size="7" fill="#333" text-anchor="middle" font-weight="normal" textLength="13.5" lengthAdjust="spacingAndGlyphs">0.04</text>
<text x="476.8" y="162" font-family='"Liberation Sans", sans-serif' font-size="7" fill="#333" text-anchor="middle" font-weight="normal" textLength="13.5" lengthAdjust="spacingAndGlyphs">0.06</text>
<text x="502.6" y="162" font-family='"Liberation Sans", sans-serif' font-size="7" fill="#333" text-anchor="middle" font-weight="normal" textLength="13.5" lengthAdjust="spacingAndGlyphs">0.08</text>
<text x="528.6" y="162" font-family='"Liberation Sans", sans-serif' font-size="7" fill="#333" text-anchor="middle" font-weight="normal" textLength="9.5" lengthAdjust="spacingAndGlyphs">0.1</text>
<path d="M391,57.31 L535,49.25" fill="none" stroke="#ff4040" stroke-width="0.9" stroke-dasharray="1.3,1.2"/>
<circle cx="398.3" cy="56.5" r="1.75" fill="#fff" stroke="#ff1010" stroke-width="1.65"/>
<circle cx="431" cy="55.5" r="1.75" fill="#fff" stroke="#ff1010" stroke-width="1.65"/>
<circle cx="463.7" cy="53.4" r="1.75" fill="#fff" stroke="#ff1010" stroke-width="1.65"/>
<circle cx="529" cy="49.4" r="1.75" fill="#fff" stroke="#ff1010" stroke-width="1.65"/>
<path d="M391,88.95 L535,73.1" fill="none" stroke="#555" stroke-width="0.9" stroke-dasharray="1.3,1.2"/>
<circle cx="398.3" cy="88.5" r="1.75" fill="#fff" stroke="#111" stroke-width="1.65"/>
<circle cx="431" cy="83.3" r="1.75" fill="#fff" stroke="#111" stroke-width="1.65"/>
<circle cx="463.7" cy="82.1" r="1.75" fill="#fff" stroke="#111" stroke-width="1.65"/>
<circle cx="529" cy="73.5" r="1.75" fill="#fff" stroke="#111" stroke-width="1.65"/>
<path d="M391,123.34 L535,113.03" fill="none" stroke="#ff4040" stroke-width="0.9" stroke-dasharray="1.3,1.2"/>
<circle cx="398.3" cy="122.5" r="1.75" fill="#fff" stroke="#ff1010" stroke-width="1.65"/>
<circle cx="431" cy="121" r="1.75" fill="#fff" stroke="#ff1010" stroke-width="1.65"/>
<circle cx="463.7" cy="118" r="1.75" fill="#fff" stroke="#ff1010" stroke-width="1.65"/>
<circle cx="529" cy="113.4" r="1.75" fill="#fff" stroke="#ff1010" stroke-width="1.65"/>
<path d="M391,144.64 L535,128.47" fill="none" stroke="#555" stroke-width="0.9" stroke-dasharray="1.3,1.2"/>
<circle cx="398.3" cy="143.9" r="1.75" fill="#fff" stroke="#111" stroke-width="1.65"/>
<circle cx="431" cy="139.5" r="1.75" fill="#fff" stroke="#111" stroke-width="1.65"/>
<circle cx="463.7" cy="137.3" r="1.75" fill="#fff" stroke="#111" stroke-width="1.65"/>
<circle cx="529" cy="128.9" r="1.75" fill="#fff" stroke="#111" stroke-width="1.65"/>
<text x="389.1" y="50.2" font-family='"Liberation Sans", sans-serif' font-size="8.8" fill="#ff2020" text-anchor="start" font-weight="normal" textLength="21.7" lengthAdjust="spacingAndGlyphs" stroke="#ff2020" stroke-width="0.12">(200)</text>
<text x="390" y="79.4" font-family='"Liberation Sans", sans-serif' font-size="8.8" fill="#222" text-anchor="start" font-weight="normal" textLength="21.7" lengthAdjust="spacingAndGlyphs" stroke="#222" stroke-width="0.12">(002)</text>
<text x="389" y="115.6" font-family='"Liberation Sans", sans-serif' font-size="8.8" fill="#ff2020" text-anchor="start" font-weight="normal" textLength="21.7" lengthAdjust="spacingAndGlyphs" stroke="#ff2020" stroke-width="0.12">(110)</text>
<text x="390" y="139" font-family='"Liberation Sans", sans-serif' font-size="8.8" fill="#222" text-anchor="start" font-weight="normal" textLength="21.7" lengthAdjust="spacingAndGlyphs" stroke="#222" stroke-width="0.12">(101)</text>
<text x="537.8" y="39.6" font-family='"Liberation Sans", sans-serif' font-size="11.6" fill="#111" text-anchor="end" font-weight="normal" textLength="65" lengthAdjust="spacingAndGlyphs" stroke="#111" stroke-width="0.15">A site doping</text>
<text transform="translate(363.4,87.4) rotate(-90)" font-family='"Liberation Serif", serif' font-size="13" fill="#111" text-anchor="middle" textLength="30.5" lengthAdjust="spacingAndGlyphs" stroke="#111" stroke-width="0.2">2&#952; (&#176;)</text>
<text x="430.6" y="180" font-family='"Liberation Sans", sans-serif' font-size="11" fill="#111" text-anchor="start" font-weight="normal" textLength="73.7" lengthAdjust="spacingAndGlyphs" stroke="#111" stroke-width="0.15">x (Sr contents)</text>
<line x1="385.5" y1="197.8" x2="542.4" y2="197.8" stroke="#4a4a4a" stroke-width="1.2"/>
<line x1="385.5" y1="316.8" x2="542.4" y2="316.8" stroke="#4a4a4a" stroke-width="1.2"/>
<line x1="385.5" y1="197.2" x2="385.5" y2="267.7" stroke="#666" stroke-width="1.2"/>
<line x1="385.5" y1="269.9" x2="385.5" y2="317.4" stroke="#666" stroke-width="1.2"/>
<line x1="542.4" y1="197.2" x2="542.4" y2="267.7" stroke="#777" stroke-width="1.2"/>
<line x1="542.4" y1="269.9" x2="542.4" y2="317.4" stroke="#777" stroke-width="1.2"/>
<line x1="382.9" y1="268.9" x2="388.1" y2="266.7" stroke="#222" stroke-width="0.9"/>
<line x1="382.9" y1="270.9" x2="388.1" y2="268.7" stroke="#222" stroke-width="0.9"/>
<line x1="539.8" y1="268.9" x2="545" y2="266.7" stroke="#222" stroke-width="0.9"/>
<line x1="539.8" y1="270.9" x2="545" y2="268.7" stroke="#222" stroke-width="0.9"/>
<line x1="385.5" y1="201.95" x2="387.3" y2="201.95" stroke="#555" stroke-width="0.9"/>
<line x1="385.5" y1="206.3" x2="387.3" y2="206.3" stroke="#555" stroke-width="0.9"/>
<line x1="385.5" y1="210.65" x2="387.3" y2="210.65" stroke="#555" stroke-width="0.9"/>
<line x1="385.5" y1="215" x2="387.3" y2="215" stroke="#555" stroke-width="0.9"/>
<line x1="385.5" y1="219.35" x2="387.3" y2="219.35" stroke="#555" stroke-width="0.9"/>
<line x1="385.5" y1="223.7" x2="387.3" y2="223.7" stroke="#555" stroke-width="0.9"/>
<line x1="385.5" y1="228.05" x2="387.3" y2="228.05" stroke="#555" stroke-width="0.9"/>
<line x1="385.5" y1="232.4" x2="387.3" y2="232.4" stroke="#555" stroke-width="0.9"/>
<line x1="385.5" y1="236.75" x2="387.3" y2="236.75" stroke="#555" stroke-width="0.9"/>
<line x1="385.5" y1="241.1" x2="387.3" y2="241.1" stroke="#555" stroke-width="0.9"/>
<line x1="385.5" y1="245.45" x2="387.3" y2="245.45" stroke="#555" stroke-width="0.9"/>
<line x1="385.5" y1="249.8" x2="387.3" y2="249.8" stroke="#555" stroke-width="0.9"/>
<line x1="385.5" y1="254.15" x2="387.3" y2="254.15" stroke="#555" stroke-width="0.9"/>
<line x1="385.5" y1="258.5" x2="387.3" y2="258.5" stroke="#555" stroke-width="0.9"/>
<line x1="385.5" y1="262.85" x2="387.3" y2="262.85" stroke="#555" stroke-width="0.9"/>
<line x1="385.5" y1="270.7" x2="387.3" y2="270.7" stroke="#555" stroke-width="0.9"/>
<line x1="385.5" y1="277.55" x2="387.3" y2="277.55" stroke="#555" stroke-width="0.9"/>
<line x1="385.5" y1="284.4" x2="387.3" y2="284.4" stroke="#555" stroke-width="0.9"/>
<line x1="385.5" y1="291.25" x2="387.3" y2="291.25" stroke="#555" stroke-width="0.9"/>
<line x1="385.5" y1="298.1" x2="387.3" y2="298.1" stroke="#555" stroke-width="0.9"/>
<line x1="385.5" y1="304.95" x2="387.3" y2="304.95" stroke="#555" stroke-width="0.9"/>
<line x1="385.5" y1="311.8" x2="387.3" y2="311.8" stroke="#555" stroke-width="0.9"/>
<line x1="404.5" y1="316.8" x2="404.5" y2="314" stroke="#555" stroke-width="0.9"/>
<line x1="444" y1="316.8" x2="444" y2="314" stroke="#555" stroke-width="0.9"/>
<line x1="483.4" y1="316.8" x2="483.4" y2="314" stroke="#555" stroke-width="0.9"/>
<line x1="522.8" y1="316.8" x2="522.8" y2="314" stroke="#555" stroke-width="0.9"/>
<line x1="424.2" y1="316.8" x2="424.2" y2="315.4" stroke="#555" stroke-width="0.9"/>
<line x1="463.7" y1="316.8" x2="463.7" y2="315.4" stroke="#555" stroke-width="0.9"/>
<line x1="503.1" y1="316.8" x2="503.1" y2="315.4" stroke="#555" stroke-width="0.9"/>
<text x="383.1" y="218" font-family='"Liberation Sans", sans-serif' font-size="9" fill="#222" text-anchor="end" font-weight="normal" textLength="17.6" lengthAdjust="spacingAndGlyphs" stroke="#222" stroke-width="0.18">45.4</text>
<text x="383.1" y="235.5" font-family='"Liberation Sans", sans-serif' font-size="9" fill="#222" text-anchor="end" font-weight="normal" textLength="17.6" lengthAdjust="spacingAndGlyphs" stroke="#222" stroke-width="0.18">45.2</text>
<text x="383.1" y="253" font-family='"Liberation Sans", sans-serif' font-size="9" fill="#222" text-anchor="end" font-weight="normal" textLength="17.6" lengthAdjust="spacingAndGlyphs" stroke="#222" stroke-width="0.18">45.0</text>
<text x="383.1" y="287.6" font-family='"Liberation Sans", sans-serif' font-size="9" fill="#222" text-anchor="end" font-weight="normal" textLength="17.6" lengthAdjust="spacingAndGlyphs" stroke="#222" stroke-width="0.18">31.6</text>
<text x="383.1" y="314.8" font-family='"Liberation Sans", sans-serif' font-size="9" fill="#222" text-anchor="end" font-weight="normal" textLength="17.6" lengthAdjust="spacingAndGlyphs" stroke="#222" stroke-width="0.18">31.5</text>
<text x="404.6" y="326.6" font-family='"Liberation Sans", sans-serif' font-size="9.4" fill="#333" text-anchor="middle" font-weight="normal" textLength="5.4" lengthAdjust="spacingAndGlyphs" stroke="#333" stroke-width="0.2">0</text>
<text x="444" y="326.6" font-family='"Liberation Sans", sans-serif' font-size="9.4" fill="#333" text-anchor="middle" font-weight="normal" textLength="17.6" lengthAdjust="spacingAndGlyphs" stroke="#333" stroke-width="0.2">0.02</text>
<text x="483.4" y="326.6" font-family='"Liberation Sans", sans-serif' font-size="9.4" fill="#333" text-anchor="middle" font-weight="normal" textLength="17.6" lengthAdjust="spacingAndGlyphs" stroke="#333" stroke-width="0.2">0.04</text>
<text x="522.8" y="326.6" font-family='"Liberation Sans", sans-serif' font-size="9.4" fill="#333" text-anchor="middle" font-weight="normal" textLength="17.6" lengthAdjust="spacingAndGlyphs" stroke="#333" stroke-width="0.2">0.06</text>
<path d="M400.3,219.27 L404.8,219.6 L443.8,222.5 L483.2,224.3 L522.5,224.6" fill="none" stroke="#ff4040" stroke-width="0.9" stroke-dasharray="1.3,1.2"/>
<circle cx="404.8" cy="219.6" r="1.75" fill="#fff" stroke="#ff1010" stroke-width="1.65"/>
<circle cx="443.8" cy="222.5" r="1.75" fill="#fff" stroke="#ff1010" stroke-width="1.65"/>
<circle cx="483.2" cy="224.3" r="1.75" fill="#fff" stroke="#ff1010" stroke-width="1.65"/>
<circle cx="522.5" cy="224.6" r="1.75" fill="#fff" stroke="#ff1010" stroke-width="1.65"/>
<path d="M400.3,255.04 L404.8,254.3 L443.8,247.9 L483.2,245.6 L522.5,248.4" fill="none" stroke="#555" stroke-width="0.9" stroke-dasharray="1.3,1.2"/>
<circle cx="404.8" cy="254.3" r="1.75" fill="#fff" stroke="#111" stroke-width="1.65"/>
<circle cx="443.8" cy="247.9" r="1.75" fill="#fff" stroke="#111" stroke-width="1.65"/>
<circle cx="483.2" cy="245.6" r="1.75" fill="#fff" stroke="#111" stroke-width="1.65"/>
<circle cx="522.5" cy="248.4" r="1.75" fill="#fff" stroke="#111" stroke-width="1.65"/>
<path d="M400,273.2 L404.5,273.9 L443.6,280 L483.2,284.1 L522.8,284.4" fill="none" stroke="#ff4040" stroke-width="0.9" stroke-dasharray="1.3,1.2"/>
<circle cx="404.5" cy="273.9" r="1.75" fill="#fff" stroke="#ff1010" stroke-width="1.65"/>
<circle cx="443.6" cy="280" r="1.75" fill="#fff" stroke="#ff1010" stroke-width="1.65"/>
<circle cx="483.2" cy="284.1" r="1.75" fill="#fff" stroke="#ff1010" stroke-width="1.65"/>
<circle cx="522.8" cy="284.4" r="1.75" fill="#fff" stroke="#ff1010" stroke-width="1.65"/>
<path d="M400.2,311.06 L404.7,310.6 L443.6,306.6 L483.2,305.9 L522.8,309.4" fill="none" stroke="#555" stroke-width="0.9" stroke-dasharray="1.3,1.2"/>
<circle cx="404.7" cy="310.6" r="1.75" fill="#fff" stroke="#111" stroke-width="1.65"/>
<circle cx="443.6" cy="306.6" r="1.75" fill="#fff" stroke="#111" stroke-width="1.65"/>
<circle cx="483.2" cy="305.9" r="1.75" fill="#fff" stroke="#111" stroke-width="1.65"/>
<circle cx="522.8" cy="309.4" r="1.75" fill="#fff" stroke="#111" stroke-width="1.65"/>
<text x="388.5" y="213.3" font-family='"Liberation Sans", sans-serif' font-size="8.8" fill="#ff2020" text-anchor="start" font-weight="normal" textLength="21.7" lengthAdjust="spacingAndGlyphs" stroke="#ff2020" stroke-width="0.12">(200)</text>
<text x="389.5" y="247.9" font-family='"Liberation Sans", sans-serif' font-size="8.8" fill="#222" text-anchor="start" font-weight="normal" textLength="21.7" lengthAdjust="spacingAndGlyphs" stroke="#222" stroke-width="0.12">(002)</text>
<text x="389" y="269.7" font-family='"Liberation Sans", sans-serif' font-size="8.8" fill="#ff2020" text-anchor="start" font-weight="normal" textLength="21.7" lengthAdjust="spacingAndGlyphs" stroke="#ff2020" stroke-width="0.12">(110)</text>
<text x="390" y="305.7" font-family='"Liberation Sans", sans-serif' font-size="8.8" fill="#222" text-anchor="start" font-weight="normal" textLength="21.7" lengthAdjust="spacingAndGlyphs" stroke="#222" stroke-width="0.12">(101)</text>
<text x="537.9" y="210.8" font-family='"Liberation Sans", sans-serif' font-size="11.6" fill="#111" text-anchor="end" font-weight="normal" textLength="65" lengthAdjust="spacingAndGlyphs" stroke="#111" stroke-width="0.15">B site doping</text>
<text transform="translate(360.6,256.2) rotate(-90)" font-family='"Liberation Serif", serif' font-size="11.8" fill="#111" text-anchor="middle" textLength="26.3" lengthAdjust="spacingAndGlyphs" stroke="#111" stroke-width="0.2">2&#952; (&#176;)</text>
<text x="428.5" y="348" font-family='"Liberation Sans", sans-serif' font-size="11" fill="#111" text-anchor="start" font-weight="normal" textLength="74.0" lengthAdjust="spacingAndGlyphs" stroke="#111" stroke-width="0.15">y (W contents)</text>
</svg>
</body></html>
